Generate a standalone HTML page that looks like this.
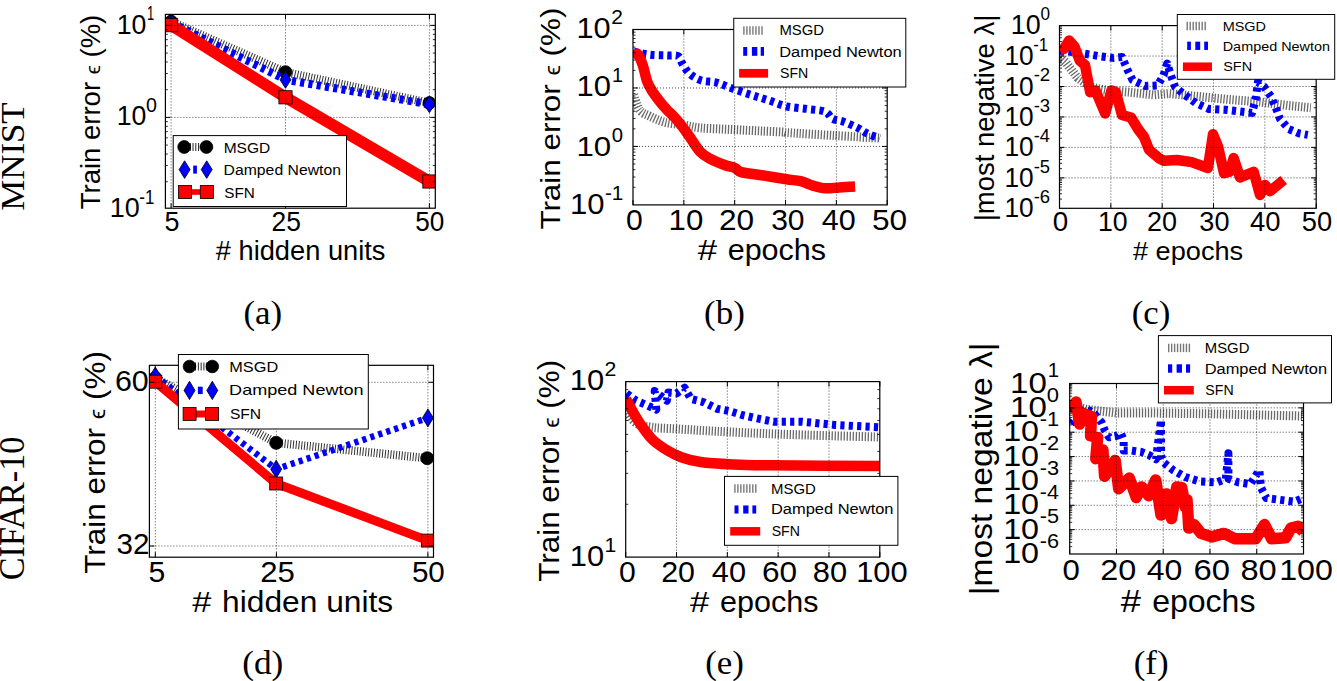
<!DOCTYPE html><html><head><meta charset="utf-8"><style>html,body{margin:0;padding:0;background:#fff;overflow:hidden}svg{display:block}</style></head><body><svg width="1337" height="681" viewBox="0 0 1337 681"><defs><clipPath id="ca"><rect x="165.4" y="14.4" width="269.9" height="193.79999999999998"/></clipPath><clipPath id="cb"><rect x="633.0" y="29.5" width="254.20000000000005" height="175.4"/></clipPath><clipPath id="cc"><rect x="1059.5" y="25.6" width="256.70000000000005" height="182.70000000000002"/></clipPath><clipPath id="cd"><rect x="149.4" y="365.3" width="284.1" height="191.90000000000003"/></clipPath><clipPath id="ce"><rect x="625.7" y="381.6" width="254.0999999999999" height="175.5"/></clipPath><clipPath id="cf"><rect x="1069.7" y="383.5" width="233.79999999999995" height="170.5"/></clipPath></defs><rect width="1337" height="681" fill="#fff"/><text transform="translate(23.77,210.70) rotate(-90) scale(1.0220,1)" font-family='"Liberation Serif", serif' font-size="34.08" fill="#000">MNIST</text>
<text transform="translate(24.06,580.20) rotate(-90) scale(0.9813,1)" font-family='"Liberation Serif", serif' font-size="34.82" fill="#000">CIFAR-10</text>
<text transform="translate(243.46,323.66) scale(1.0558,1)" font-family='"Liberation Serif", serif' font-size="33.09" fill="#000">(a)</text>
<text transform="translate(704.06,323.66) scale(1.0569,1)" font-family='"Liberation Serif", serif' font-size="33.09" fill="#000">(b)</text>
<text transform="translate(1131.77,323.66) scale(1.0529,1)" font-family='"Liberation Serif", serif' font-size="33.09" fill="#000">(c)</text>
<text transform="translate(242.15,673.86) scale(1.0681,1)" font-family='"Liberation Serif", serif' font-size="33.09" fill="#000">(d)</text>
<text transform="translate(705.16,673.86) scale(1.0558,1)" font-family='"Liberation Serif", serif' font-size="33.09" fill="#000">(e)</text>
<text transform="translate(1133.67,673.94) scale(1.0668,1)" font-family='"Liberation Serif", serif' font-size="32.72" fill="#000">(f)</text>
<g clip-path="url(#ca)">
<polyline points="171.1,21.5 285.5,72.1 429.4,103.0" fill="none" stroke="#303030" stroke-width="8.5" stroke-dasharray="1.0 1.8" stroke-linecap="butt" stroke-linejoin="round"/>
<circle cx="171.10" cy="21.50" r="6.40" fill="#000000" stroke="#000" stroke-width="0.8"/>
<circle cx="285.50" cy="72.10" r="6.40" fill="#000000" stroke="#000" stroke-width="0.8"/>
<circle cx="429.40" cy="103.00" r="6.40" fill="#000000" stroke="#000" stroke-width="0.8"/>
<polyline points="171.1,22.5 285.5,79.8 429.4,104.3" fill="none" stroke="#0000ff" stroke-width="8" stroke-dasharray="4.2 4.2" stroke-linecap="butt" stroke-linejoin="round"/>
<polygon points="171.10,14.00 176.60,22.50 171.10,31.00 165.60,22.50" fill="#0000ff" stroke="#000" stroke-width="0.8"/>
<polygon points="285.50,71.30 291.00,79.80 285.50,88.30 280.00,79.80" fill="#0000ff" stroke="#000" stroke-width="0.8"/>
<polygon points="429.40,95.80 434.90,104.30 429.40,112.80 423.90,104.30" fill="#0000ff" stroke="#000" stroke-width="0.8"/>
<polyline points="171.1,25.2 285.5,97.3 429.4,181.5" fill="none" stroke="#ff0000" stroke-width="11.5" stroke-linecap="butt" stroke-linejoin="miter"/>
<rect x="164.50" y="18.60" width="13.20" height="13.20" fill="#ff0000" stroke="#000" stroke-width="0.8"/>
<rect x="278.90" y="90.70" width="13.20" height="13.20" fill="#ff0000" stroke="#000" stroke-width="0.8"/>
<rect x="422.80" y="174.90" width="13.20" height="13.20" fill="#ff0000" stroke="#000" stroke-width="0.8"/>
</g>
<line x1="171.10" y1="14.40" x2="171.10" y2="208.20" stroke="#000" stroke-width="0.9" stroke-dasharray="1 2" stroke-linecap="butt" stroke-opacity="0.8"/>
<line x1="285.50" y1="14.40" x2="285.50" y2="208.20" stroke="#000" stroke-width="0.9" stroke-dasharray="1 2" stroke-linecap="butt" stroke-opacity="0.8"/>
<line x1="429.40" y1="14.40" x2="429.40" y2="208.20" stroke="#000" stroke-width="0.9" stroke-dasharray="1 2" stroke-linecap="butt" stroke-opacity="0.8"/>
<line x1="165.40" y1="25.40" x2="435.30" y2="25.40" stroke="#000" stroke-width="0.9" stroke-dasharray="1 2" stroke-linecap="butt" stroke-opacity="0.8"/>
<line x1="165.40" y1="117.40" x2="435.30" y2="117.40" stroke="#000" stroke-width="0.9" stroke-dasharray="1 2" stroke-linecap="butt" stroke-opacity="0.8"/>
<line x1="171.10" y1="208.20" x2="171.10" y2="203.20" stroke="#000" stroke-width="1" stroke-linecap="butt"/>
<line x1="171.10" y1="14.40" x2="171.10" y2="19.40" stroke="#000" stroke-width="1" stroke-linecap="butt"/>
<line x1="285.50" y1="208.20" x2="285.50" y2="203.20" stroke="#000" stroke-width="1" stroke-linecap="butt"/>
<line x1="285.50" y1="14.40" x2="285.50" y2="19.40" stroke="#000" stroke-width="1" stroke-linecap="butt"/>
<line x1="429.40" y1="208.20" x2="429.40" y2="203.20" stroke="#000" stroke-width="1" stroke-linecap="butt"/>
<line x1="429.40" y1="14.40" x2="429.40" y2="19.40" stroke="#000" stroke-width="1" stroke-linecap="butt"/>
<line x1="165.40" y1="25.40" x2="170.40" y2="25.40" stroke="#000" stroke-width="1" stroke-linecap="butt"/>
<line x1="435.30" y1="25.40" x2="430.30" y2="25.40" stroke="#000" stroke-width="1" stroke-linecap="butt"/>
<line x1="165.40" y1="117.40" x2="170.40" y2="117.40" stroke="#000" stroke-width="1" stroke-linecap="butt"/>
<line x1="435.30" y1="117.40" x2="430.30" y2="117.40" stroke="#000" stroke-width="1" stroke-linecap="butt"/>
<line x1="165.40" y1="89.71" x2="167.90" y2="89.71" stroke="#000" stroke-width="0.8" stroke-linecap="butt"/>
<line x1="435.30" y1="89.71" x2="432.80" y2="89.71" stroke="#000" stroke-width="0.8" stroke-linecap="butt"/>
<line x1="165.40" y1="73.50" x2="167.90" y2="73.50" stroke="#000" stroke-width="0.8" stroke-linecap="butt"/>
<line x1="435.30" y1="73.50" x2="432.80" y2="73.50" stroke="#000" stroke-width="0.8" stroke-linecap="butt"/>
<line x1="165.40" y1="62.01" x2="167.90" y2="62.01" stroke="#000" stroke-width="0.8" stroke-linecap="butt"/>
<line x1="435.30" y1="62.01" x2="432.80" y2="62.01" stroke="#000" stroke-width="0.8" stroke-linecap="butt"/>
<line x1="165.40" y1="53.09" x2="167.90" y2="53.09" stroke="#000" stroke-width="0.8" stroke-linecap="butt"/>
<line x1="435.30" y1="53.09" x2="432.80" y2="53.09" stroke="#000" stroke-width="0.8" stroke-linecap="butt"/>
<line x1="165.40" y1="45.81" x2="167.90" y2="45.81" stroke="#000" stroke-width="0.8" stroke-linecap="butt"/>
<line x1="435.30" y1="45.81" x2="432.80" y2="45.81" stroke="#000" stroke-width="0.8" stroke-linecap="butt"/>
<line x1="165.40" y1="39.65" x2="167.90" y2="39.65" stroke="#000" stroke-width="0.8" stroke-linecap="butt"/>
<line x1="435.30" y1="39.65" x2="432.80" y2="39.65" stroke="#000" stroke-width="0.8" stroke-linecap="butt"/>
<line x1="165.40" y1="34.32" x2="167.90" y2="34.32" stroke="#000" stroke-width="0.8" stroke-linecap="butt"/>
<line x1="435.30" y1="34.32" x2="432.80" y2="34.32" stroke="#000" stroke-width="0.8" stroke-linecap="butt"/>
<line x1="165.40" y1="29.61" x2="167.90" y2="29.61" stroke="#000" stroke-width="0.8" stroke-linecap="butt"/>
<line x1="435.30" y1="29.61" x2="432.80" y2="29.61" stroke="#000" stroke-width="0.8" stroke-linecap="butt"/>
<line x1="165.40" y1="181.71" x2="167.90" y2="181.71" stroke="#000" stroke-width="0.8" stroke-linecap="butt"/>
<line x1="435.30" y1="181.71" x2="432.80" y2="181.71" stroke="#000" stroke-width="0.8" stroke-linecap="butt"/>
<line x1="165.40" y1="165.50" x2="167.90" y2="165.50" stroke="#000" stroke-width="0.8" stroke-linecap="butt"/>
<line x1="435.30" y1="165.50" x2="432.80" y2="165.50" stroke="#000" stroke-width="0.8" stroke-linecap="butt"/>
<line x1="165.40" y1="154.01" x2="167.90" y2="154.01" stroke="#000" stroke-width="0.8" stroke-linecap="butt"/>
<line x1="435.30" y1="154.01" x2="432.80" y2="154.01" stroke="#000" stroke-width="0.8" stroke-linecap="butt"/>
<line x1="165.40" y1="145.09" x2="167.90" y2="145.09" stroke="#000" stroke-width="0.8" stroke-linecap="butt"/>
<line x1="435.30" y1="145.09" x2="432.80" y2="145.09" stroke="#000" stroke-width="0.8" stroke-linecap="butt"/>
<line x1="165.40" y1="137.81" x2="167.90" y2="137.81" stroke="#000" stroke-width="0.8" stroke-linecap="butt"/>
<line x1="435.30" y1="137.81" x2="432.80" y2="137.81" stroke="#000" stroke-width="0.8" stroke-linecap="butt"/>
<line x1="165.40" y1="131.65" x2="167.90" y2="131.65" stroke="#000" stroke-width="0.8" stroke-linecap="butt"/>
<line x1="435.30" y1="131.65" x2="432.80" y2="131.65" stroke="#000" stroke-width="0.8" stroke-linecap="butt"/>
<line x1="165.40" y1="126.32" x2="167.90" y2="126.32" stroke="#000" stroke-width="0.8" stroke-linecap="butt"/>
<line x1="435.30" y1="126.32" x2="432.80" y2="126.32" stroke="#000" stroke-width="0.8" stroke-linecap="butt"/>
<line x1="165.40" y1="121.61" x2="167.90" y2="121.61" stroke="#000" stroke-width="0.8" stroke-linecap="butt"/>
<line x1="435.30" y1="121.61" x2="432.80" y2="121.61" stroke="#000" stroke-width="0.8" stroke-linecap="butt"/>
<rect x="165.40" y="14.40" width="269.90" height="193.80" fill="none" stroke="#000" stroke-width="1.2"/>
<rect x="173.20" y="135.60" width="173.30" height="70.90" fill="#fff" stroke="#000" stroke-width="1"/>
<polyline points="184.2,147.0 206.4,147.0" fill="none" stroke="#000000" stroke-width="8" stroke-dasharray="0.85 1.95" stroke-linecap="butt" stroke-linejoin="round"/>
<circle cx="184.20" cy="147.00" r="6.40" fill="#000000" stroke="#000" stroke-width="0.8"/>
<circle cx="206.40" cy="147.00" r="6.40" fill="#000000" stroke="#000" stroke-width="0.8"/>
<rect x="193.20" y="165.60" width="3.70" height="8.00" fill="#0000ff"/>
<polygon points="184.60,160.80 190.10,169.60 184.60,178.40 179.10,169.60" fill="#0000ff" stroke="#000" stroke-width="0.8"/>
<polygon points="206.70,160.80 212.20,169.60 206.70,178.40 201.20,169.60" fill="#0000ff" stroke="#000" stroke-width="0.8"/>
<polyline points="185.0,192.0 206.9,192.0" fill="none" stroke="#ff0000" stroke-width="5.7" stroke-linecap="butt" stroke-linejoin="round"/>
<rect x="178.40" y="185.40" width="13.20" height="13.20" fill="#ff0000" stroke="#000" stroke-width="0.8"/>
<rect x="200.30" y="185.40" width="13.20" height="13.20" fill="#ff0000" stroke="#000" stroke-width="0.8"/>
<text transform="translate(223.63,152.60) scale(1.0182,1)" font-family='"Liberation Sans", sans-serif' font-size="15.26" fill="#000">MSGD</text>
<text transform="translate(223.61,175.10) scale(1.0329,1)" font-family='"Liberation Sans", sans-serif' font-size="15.26" fill="#000">Damped Newton</text>
<text transform="translate(224.21,197.50) scale(1.0005,1)" font-family='"Liberation Sans", sans-serif' font-size="15.26" fill="#000">SFN</text>
<text transform="translate(116.67,33.53) scale(0.9588,1)" font-family='"Liberation Sans", sans-serif' font-size="27.82" fill="#000">10</text>
<text transform="translate(146.91,20.00) scale(0.6475,1)" font-family='"Liberation Sans", sans-serif' font-size="20.06" fill="#000">1</text>
<text transform="translate(116.67,125.33) scale(0.9588,1)" font-family='"Liberation Sans", sans-serif' font-size="27.82" fill="#000">10</text>
<text transform="translate(145.93,111.81) scale(1.0089,1)" font-family='"Liberation Sans", sans-serif' font-size="19.49" fill="#000">0</text>
<text transform="translate(109.84,217.32) scale(0.9551,1)" font-family='"Liberation Sans", sans-serif' font-size="28.25" fill="#000">10</text>
<text transform="translate(139.25,203.90) scale(0.8518,1)" font-family='"Liberation Sans", sans-serif' font-size="19.91" fill="#000">-1</text>
<text transform="translate(164.52,231.43) scale(0.9660,1)" font-family='"Liberation Sans", sans-serif' font-size="27.95" fill="#000">5</text>
<text transform="translate(271.47,231.43) scale(0.9611,1)" font-family='"Liberation Sans", sans-serif' font-size="27.54" fill="#000">25</text>
<text transform="translate(415.35,231.43) scale(0.9488,1)" font-family='"Liberation Sans", sans-serif' font-size="27.54" fill="#000">50</text>
<text transform="translate(215.78,259.60) scale(1.0127,1)" font-family='"Liberation Sans", sans-serif' font-size="26.91" fill="#000"># hidden units</text>
<text transform="translate(100.18,209.32) rotate(-90) scale(1.0137,1)" font-family='"Liberation Sans", sans-serif' font-size="27.16" fill="#000"><tspan font-size="27.16">Train error </tspan><tspan font-size="20.37">ϵ</tspan><tspan font-size="27.16"> (%)</tspan></text>
<g clip-path="url(#cb)">
<path d="M 633.50,95.00 C 634.53,97.50 636.95,106.45 639.70,110.00 C 642.45,113.55 645.83,114.27 650.00,116.30 C 654.17,118.33 659.07,120.73 664.70,122.20 C 670.33,123.67 677.92,124.15 683.80,125.10 C 689.68,126.05 693.87,127.25 700.00,127.90 C 706.13,128.55 713.77,128.65 720.60,129.00 C 727.43,129.35 734.15,129.67 741.00,130.00 C 747.85,130.33 754.82,130.67 761.70,131.00 C 768.58,131.33 777.58,131.70 782.30,132.00 C 787.02,132.30 781.38,132.22 790.00,132.80 C 798.62,133.38 819.03,134.62 834.00,135.50 C 848.97,136.38 872.17,137.67 879.80,138.10" fill="none" stroke="#6a6a6a" stroke-width="9" stroke-dasharray="1.3 1.7" stroke-linecap="butt" stroke-linejoin="round"/>
<path d="M 633.90,51.70 C 636.58,52.20 644.38,54.08 650.00,54.70 C 655.62,55.32 662.93,55.17 667.60,55.40 C 672.27,55.63 675.55,54.75 678.00,56.10 C 680.45,57.45 680.35,60.55 682.30,63.50 C 684.25,66.45 686.52,70.97 689.70,73.80 C 692.88,76.63 696.93,79.03 701.40,80.50 C 705.87,81.97 711.25,81.22 716.50,82.60 C 721.75,83.98 727.08,86.73 732.90,88.80 C 738.72,90.87 745.57,93.12 751.40,95.00 C 757.23,96.88 762.07,98.22 767.90,100.10 C 773.73,101.98 779.78,104.82 786.40,106.30 C 793.02,107.78 801.13,108.10 807.60,109.00 C 814.07,109.90 821.08,110.08 825.20,111.70 C 829.32,113.32 829.37,117.08 832.30,118.70 C 835.23,120.32 838.70,119.93 842.80,121.40 C 846.90,122.87 852.78,125.45 856.90,127.50 C 861.02,129.55 863.68,131.93 867.50,133.70 C 871.32,135.47 877.75,137.37 879.80,138.10" fill="none" stroke="#0000ff" stroke-width="8" stroke-dasharray="4.2 4.2" stroke-linecap="butt" stroke-linejoin="round"/>
<path d="M 633.50,58.00 C 634.17,57.33 635.97,52.83 637.50,54.00 C 639.03,55.17 641.12,60.50 642.70,65.00 C 644.28,69.50 645.53,76.83 647.00,81.00 C 648.47,85.17 649.53,86.80 651.50,90.00 C 653.47,93.20 656.35,97.03 658.80,100.20 C 661.25,103.37 663.50,106.07 666.20,109.00 C 668.90,111.93 672.32,114.87 675.00,117.80 C 677.68,120.73 679.85,123.42 682.30,126.60 C 684.75,129.78 686.75,132.73 689.70,136.90 C 692.65,141.07 696.57,147.95 700.00,151.60 C 703.43,155.25 706.18,156.57 710.30,158.80 C 714.42,161.03 720.58,163.47 724.70,165.00 C 728.82,166.53 732.25,166.82 735.00,168.00 C 737.75,169.18 736.75,170.90 741.20,172.10 C 745.65,173.30 754.17,174.00 761.70,175.20 C 769.23,176.40 779.92,178.30 786.40,179.30 C 792.88,180.30 796.18,180.15 800.60,181.20 C 805.02,182.25 808.80,184.42 812.90,185.60 C 817.00,186.78 820.80,188.00 825.20,188.30 C 829.60,188.60 834.32,187.70 839.30,187.40 C 844.28,187.10 852.47,186.65 855.10,186.50" fill="none" stroke="#ff0000" stroke-width="10.5" stroke-linecap="butt" stroke-linejoin="round"/>
</g>
<line x1="683.84" y1="29.50" x2="683.84" y2="204.90" stroke="#000" stroke-width="0.9" stroke-dasharray="1 2" stroke-linecap="butt" stroke-opacity="0.8"/>
<line x1="734.68" y1="29.50" x2="734.68" y2="204.90" stroke="#000" stroke-width="0.9" stroke-dasharray="1 2" stroke-linecap="butt" stroke-opacity="0.8"/>
<line x1="785.52" y1="29.50" x2="785.52" y2="204.90" stroke="#000" stroke-width="0.9" stroke-dasharray="1 2" stroke-linecap="butt" stroke-opacity="0.8"/>
<line x1="836.36" y1="29.50" x2="836.36" y2="204.90" stroke="#000" stroke-width="0.9" stroke-dasharray="1 2" stroke-linecap="butt" stroke-opacity="0.8"/>
<line x1="633.00" y1="87.97" x2="887.20" y2="87.97" stroke="#000" stroke-width="0.9" stroke-dasharray="1 2" stroke-linecap="butt" stroke-opacity="0.8"/>
<line x1="633.00" y1="146.43" x2="887.20" y2="146.43" stroke="#000" stroke-width="0.9" stroke-dasharray="1 2" stroke-linecap="butt" stroke-opacity="0.8"/>
<line x1="633.00" y1="204.90" x2="633.00" y2="199.90" stroke="#000" stroke-width="1" stroke-linecap="butt"/>
<line x1="633.00" y1="29.50" x2="633.00" y2="34.50" stroke="#000" stroke-width="1" stroke-linecap="butt"/>
<line x1="683.84" y1="204.90" x2="683.84" y2="199.90" stroke="#000" stroke-width="1" stroke-linecap="butt"/>
<line x1="683.84" y1="29.50" x2="683.84" y2="34.50" stroke="#000" stroke-width="1" stroke-linecap="butt"/>
<line x1="734.68" y1="204.90" x2="734.68" y2="199.90" stroke="#000" stroke-width="1" stroke-linecap="butt"/>
<line x1="734.68" y1="29.50" x2="734.68" y2="34.50" stroke="#000" stroke-width="1" stroke-linecap="butt"/>
<line x1="785.52" y1="204.90" x2="785.52" y2="199.90" stroke="#000" stroke-width="1" stroke-linecap="butt"/>
<line x1="785.52" y1="29.50" x2="785.52" y2="34.50" stroke="#000" stroke-width="1" stroke-linecap="butt"/>
<line x1="836.36" y1="204.90" x2="836.36" y2="199.90" stroke="#000" stroke-width="1" stroke-linecap="butt"/>
<line x1="836.36" y1="29.50" x2="836.36" y2="34.50" stroke="#000" stroke-width="1" stroke-linecap="butt"/>
<line x1="887.20" y1="204.90" x2="887.20" y2="199.90" stroke="#000" stroke-width="1" stroke-linecap="butt"/>
<line x1="887.20" y1="29.50" x2="887.20" y2="34.50" stroke="#000" stroke-width="1" stroke-linecap="butt"/>
<line x1="633.00" y1="87.97" x2="638.00" y2="87.97" stroke="#000" stroke-width="1" stroke-linecap="butt"/>
<line x1="887.20" y1="87.97" x2="882.20" y2="87.97" stroke="#000" stroke-width="1" stroke-linecap="butt"/>
<line x1="633.00" y1="146.43" x2="638.00" y2="146.43" stroke="#000" stroke-width="1" stroke-linecap="butt"/>
<line x1="887.20" y1="146.43" x2="882.20" y2="146.43" stroke="#000" stroke-width="1" stroke-linecap="butt"/>
<line x1="633.00" y1="70.37" x2="635.50" y2="70.37" stroke="#000" stroke-width="0.8" stroke-linecap="butt"/>
<line x1="887.20" y1="70.37" x2="884.70" y2="70.37" stroke="#000" stroke-width="0.8" stroke-linecap="butt"/>
<line x1="633.00" y1="60.07" x2="635.50" y2="60.07" stroke="#000" stroke-width="0.8" stroke-linecap="butt"/>
<line x1="887.20" y1="60.07" x2="884.70" y2="60.07" stroke="#000" stroke-width="0.8" stroke-linecap="butt"/>
<line x1="633.00" y1="52.77" x2="635.50" y2="52.77" stroke="#000" stroke-width="0.8" stroke-linecap="butt"/>
<line x1="887.20" y1="52.77" x2="884.70" y2="52.77" stroke="#000" stroke-width="0.8" stroke-linecap="butt"/>
<line x1="633.00" y1="47.10" x2="635.50" y2="47.10" stroke="#000" stroke-width="0.8" stroke-linecap="butt"/>
<line x1="887.20" y1="47.10" x2="884.70" y2="47.10" stroke="#000" stroke-width="0.8" stroke-linecap="butt"/>
<line x1="633.00" y1="42.47" x2="635.50" y2="42.47" stroke="#000" stroke-width="0.8" stroke-linecap="butt"/>
<line x1="887.20" y1="42.47" x2="884.70" y2="42.47" stroke="#000" stroke-width="0.8" stroke-linecap="butt"/>
<line x1="633.00" y1="38.56" x2="635.50" y2="38.56" stroke="#000" stroke-width="0.8" stroke-linecap="butt"/>
<line x1="887.20" y1="38.56" x2="884.70" y2="38.56" stroke="#000" stroke-width="0.8" stroke-linecap="butt"/>
<line x1="633.00" y1="35.17" x2="635.50" y2="35.17" stroke="#000" stroke-width="0.8" stroke-linecap="butt"/>
<line x1="887.20" y1="35.17" x2="884.70" y2="35.17" stroke="#000" stroke-width="0.8" stroke-linecap="butt"/>
<line x1="633.00" y1="32.18" x2="635.50" y2="32.18" stroke="#000" stroke-width="0.8" stroke-linecap="butt"/>
<line x1="887.20" y1="32.18" x2="884.70" y2="32.18" stroke="#000" stroke-width="0.8" stroke-linecap="butt"/>
<line x1="633.00" y1="128.83" x2="635.50" y2="128.83" stroke="#000" stroke-width="0.8" stroke-linecap="butt"/>
<line x1="887.20" y1="128.83" x2="884.70" y2="128.83" stroke="#000" stroke-width="0.8" stroke-linecap="butt"/>
<line x1="633.00" y1="118.54" x2="635.50" y2="118.54" stroke="#000" stroke-width="0.8" stroke-linecap="butt"/>
<line x1="887.20" y1="118.54" x2="884.70" y2="118.54" stroke="#000" stroke-width="0.8" stroke-linecap="butt"/>
<line x1="633.00" y1="111.23" x2="635.50" y2="111.23" stroke="#000" stroke-width="0.8" stroke-linecap="butt"/>
<line x1="887.20" y1="111.23" x2="884.70" y2="111.23" stroke="#000" stroke-width="0.8" stroke-linecap="butt"/>
<line x1="633.00" y1="105.57" x2="635.50" y2="105.57" stroke="#000" stroke-width="0.8" stroke-linecap="butt"/>
<line x1="887.20" y1="105.57" x2="884.70" y2="105.57" stroke="#000" stroke-width="0.8" stroke-linecap="butt"/>
<line x1="633.00" y1="100.94" x2="635.50" y2="100.94" stroke="#000" stroke-width="0.8" stroke-linecap="butt"/>
<line x1="887.20" y1="100.94" x2="884.70" y2="100.94" stroke="#000" stroke-width="0.8" stroke-linecap="butt"/>
<line x1="633.00" y1="97.02" x2="635.50" y2="97.02" stroke="#000" stroke-width="0.8" stroke-linecap="butt"/>
<line x1="887.20" y1="97.02" x2="884.70" y2="97.02" stroke="#000" stroke-width="0.8" stroke-linecap="butt"/>
<line x1="633.00" y1="93.63" x2="635.50" y2="93.63" stroke="#000" stroke-width="0.8" stroke-linecap="butt"/>
<line x1="887.20" y1="93.63" x2="884.70" y2="93.63" stroke="#000" stroke-width="0.8" stroke-linecap="butt"/>
<line x1="633.00" y1="90.64" x2="635.50" y2="90.64" stroke="#000" stroke-width="0.8" stroke-linecap="butt"/>
<line x1="887.20" y1="90.64" x2="884.70" y2="90.64" stroke="#000" stroke-width="0.8" stroke-linecap="butt"/>
<line x1="633.00" y1="187.30" x2="635.50" y2="187.30" stroke="#000" stroke-width="0.8" stroke-linecap="butt"/>
<line x1="887.20" y1="187.30" x2="884.70" y2="187.30" stroke="#000" stroke-width="0.8" stroke-linecap="butt"/>
<line x1="633.00" y1="177.00" x2="635.50" y2="177.00" stroke="#000" stroke-width="0.8" stroke-linecap="butt"/>
<line x1="887.20" y1="177.00" x2="884.70" y2="177.00" stroke="#000" stroke-width="0.8" stroke-linecap="butt"/>
<line x1="633.00" y1="169.70" x2="635.50" y2="169.70" stroke="#000" stroke-width="0.8" stroke-linecap="butt"/>
<line x1="887.20" y1="169.70" x2="884.70" y2="169.70" stroke="#000" stroke-width="0.8" stroke-linecap="butt"/>
<line x1="633.00" y1="164.03" x2="635.50" y2="164.03" stroke="#000" stroke-width="0.8" stroke-linecap="butt"/>
<line x1="887.20" y1="164.03" x2="884.70" y2="164.03" stroke="#000" stroke-width="0.8" stroke-linecap="butt"/>
<line x1="633.00" y1="159.40" x2="635.50" y2="159.40" stroke="#000" stroke-width="0.8" stroke-linecap="butt"/>
<line x1="887.20" y1="159.40" x2="884.70" y2="159.40" stroke="#000" stroke-width="0.8" stroke-linecap="butt"/>
<line x1="633.00" y1="155.49" x2="635.50" y2="155.49" stroke="#000" stroke-width="0.8" stroke-linecap="butt"/>
<line x1="887.20" y1="155.49" x2="884.70" y2="155.49" stroke="#000" stroke-width="0.8" stroke-linecap="butt"/>
<line x1="633.00" y1="152.10" x2="635.50" y2="152.10" stroke="#000" stroke-width="0.8" stroke-linecap="butt"/>
<line x1="887.20" y1="152.10" x2="884.70" y2="152.10" stroke="#000" stroke-width="0.8" stroke-linecap="butt"/>
<line x1="633.00" y1="149.11" x2="635.50" y2="149.11" stroke="#000" stroke-width="0.8" stroke-linecap="butt"/>
<line x1="887.20" y1="149.11" x2="884.70" y2="149.11" stroke="#000" stroke-width="0.8" stroke-linecap="butt"/>
<rect x="633.00" y="29.50" width="254.20" height="175.40" fill="none" stroke="#000" stroke-width="1.2"/>
<rect x="733.75" y="18.30" width="172.05" height="68.70" fill="#fff" stroke="#000" stroke-width="1.0"/>
<line x1="743.90" y1="26.15" x2="743.90" y2="34.85" stroke="#777777" stroke-width="1.4" stroke-linecap="butt"/>
<line x1="746.92" y1="26.15" x2="746.92" y2="34.85" stroke="#777777" stroke-width="1.4" stroke-linecap="butt"/>
<line x1="749.93" y1="26.15" x2="749.93" y2="34.85" stroke="#777777" stroke-width="1.4" stroke-linecap="butt"/>
<line x1="752.95" y1="26.15" x2="752.95" y2="34.85" stroke="#777777" stroke-width="1.4" stroke-linecap="butt"/>
<line x1="755.97" y1="26.15" x2="755.97" y2="34.85" stroke="#777777" stroke-width="1.4" stroke-linecap="butt"/>
<line x1="758.98" y1="26.15" x2="758.98" y2="34.85" stroke="#777777" stroke-width="1.4" stroke-linecap="butt"/>
<line x1="762.00" y1="26.15" x2="762.00" y2="34.85" stroke="#777777" stroke-width="1.4" stroke-linecap="butt"/>
<rect x="743.20" y="47.00" width="4.00" height="8.80" fill="#0000ff"/>
<rect x="751.90" y="47.00" width="5.40" height="8.80" fill="#0000ff"/>
<rect x="760.70" y="47.00" width="3.30" height="8.80" fill="#0000ff"/>
<rect x="739.10" y="68.95" width="29.00" height="8.70" fill="#ff0000"/>
<text transform="translate(779.38,35.30) scale(0.9748,1)" font-family='"Liberation Sans", sans-serif' font-size="15.26" fill="#000">MSGD</text>
<text transform="translate(779.25,56.70) scale(1.0778,1)" font-family='"Liberation Sans", sans-serif' font-size="15.26" fill="#000">Damped Newton</text>
<text transform="translate(779.96,77.70) scale(0.9637,1)" font-family='"Liberation Sans", sans-serif' font-size="14.68" fill="#000">SFN</text>
<text transform="translate(576.46,37.62) scale(1.0704,1)" font-family='"Liberation Sans", sans-serif' font-size="28.67" fill="#000">10</text>
<text transform="translate(611.34,23.70) scale(1.0289,1)" font-family='"Liberation Sans", sans-serif' font-size="20.48" fill="#000">2</text>
<text transform="translate(576.44,96.42) scale(1.0651,1)" font-family='"Liberation Sans", sans-serif' font-size="29.10" fill="#000">10</text>
<text transform="translate(612.00,82.00) scale(0.9829,1)" font-family='"Liberation Sans", sans-serif' font-size="20.06" fill="#000">1</text>
<text transform="translate(576.42,155.52) scale(1.0933,1)" font-family='"Liberation Sans", sans-serif' font-size="28.53" fill="#000">10</text>
<text transform="translate(611.81,141.50) scale(0.9977,1)" font-family='"Liberation Sans", sans-serif' font-size="20.34" fill="#000">0</text>
<text transform="translate(569.93,214.42) scale(1.0686,1)" font-family='"Liberation Sans", sans-serif' font-size="29.10" fill="#000">10</text>
<text transform="translate(604.88,199.80) scale(1.0411,1)" font-family='"Liberation Sans", sans-serif' font-size="19.91" fill="#000">-1</text>
<text transform="translate(626.02,229.71) scale(1.0156,1)" font-family='"Liberation Sans", sans-serif' font-size="29.66" fill="#000">0</text>
<text transform="translate(668.62,229.71) scale(1.0516,1)" font-family='"Liberation Sans", sans-serif' font-size="29.66" fill="#000">10</text>
<text transform="translate(719.01,229.71) scale(1.0646,1)" font-family='"Liberation Sans", sans-serif' font-size="29.66" fill="#000">20</text>
<text transform="translate(771.16,229.71) scale(1.0129,1)" font-family='"Liberation Sans", sans-serif' font-size="29.66" fill="#000">30</text>
<text transform="translate(821.80,229.71) scale(1.0304,1)" font-family='"Liberation Sans", sans-serif' font-size="29.66" fill="#000">40</text>
<text transform="translate(872.03,229.71) scale(1.0670,1)" font-family='"Liberation Sans", sans-serif' font-size="29.66" fill="#000">50</text>
<text transform="translate(697.75,259.90) scale(1.2005,1)" font-family='"Liberation Sans", sans-serif' font-size="29.09" fill="#000">#</text>
<text transform="translate(727.71,259.90) scale(1.0518,1)" font-family='"Liberation Sans", sans-serif' font-size="28.98" fill="#000">epochs</text>
<text transform="translate(559.60,229.61) rotate(-90) scale(1.1027,1)" font-family='"Liberation Sans", sans-serif' font-size="28.49" fill="#000"><tspan font-size="28.49">Train error </tspan><tspan font-size="21.37">ϵ</tspan><tspan font-size="28.49"> (%)</tspan></text>
<g clip-path="url(#cc)">
<polyline points="1060.0,57.0 1065.6,62.3 1077.9,78.1 1090.2,87.0 1107.9,90.5 1129.0,92.2 1153.7,94.9 1169.4,93.6 1198.7,96.5 1230.0,99.6 1259.4,101.9 1288.7,105.5 1310.8,107.7" fill="none" stroke="#6a6a6a" stroke-width="9" stroke-dasharray="1.3 1.7" stroke-linecap="butt" stroke-linejoin="round"/>
<polyline points="1060.0,50.8 1077.9,52.6 1099.0,56.1 1113.1,57.9 1122.0,57.0 1127.2,69.3 1132.5,79.9 1144.9,86.0 1157.6,85.5 1163.5,75.2 1167.2,63.5 1170.8,75.2 1175.2,87.0 1184.0,94.3 1195.8,103.1 1209.0,109.0 1225.2,109.8 1238.8,111.4 1252.0,112.9 1255.7,99.6 1257.9,82.0 1263.8,86.4 1271.1,96.7 1275.5,107.0 1279.9,118.7 1288.7,129.0 1299.0,133.4 1307.8,134.9" fill="none" stroke="#0000ff" stroke-width="8" stroke-dasharray="4.2 4.2" stroke-linecap="butt" stroke-linejoin="round"/>
<polyline points="1060.0,50.0 1063.8,49.0 1069.1,40.5 1074.4,46.4 1079.7,60.5 1085.0,65.0 1090.2,92.2 1095.5,90.5 1105.2,113.4 1111.4,90.5 1115.8,92.2 1122.0,115.0 1131.0,117.5 1138.0,129.0 1144.0,137.0 1149.0,149.7 1159.4,158.5 1163.8,160.7 1177.0,160.0 1191.7,162.1 1207.9,168.0 1213.0,134.2 1218.1,146.7 1224.0,173.2 1229.9,171.7 1233.6,158.0 1240.0,177.4 1253.7,171.8 1260.0,194.9 1265.0,184.9 1270.0,191.2 1283.7,180.0" fill="none" stroke="#ff0000" stroke-width="10.5" stroke-linecap="butt" stroke-linejoin="round"/>
</g>
<line x1="1110.84" y1="25.60" x2="1110.84" y2="208.30" stroke="#000" stroke-width="0.9" stroke-dasharray="1 2" stroke-linecap="butt" stroke-opacity="0.8"/>
<line x1="1162.18" y1="25.60" x2="1162.18" y2="208.30" stroke="#000" stroke-width="0.9" stroke-dasharray="1 2" stroke-linecap="butt" stroke-opacity="0.8"/>
<line x1="1213.52" y1="25.60" x2="1213.52" y2="208.30" stroke="#000" stroke-width="0.9" stroke-dasharray="1 2" stroke-linecap="butt" stroke-opacity="0.8"/>
<line x1="1264.86" y1="25.60" x2="1264.86" y2="208.30" stroke="#000" stroke-width="0.9" stroke-dasharray="1 2" stroke-linecap="butt" stroke-opacity="0.8"/>
<line x1="1059.50" y1="56.05" x2="1316.20" y2="56.05" stroke="#000" stroke-width="0.9" stroke-dasharray="1 2" stroke-linecap="butt" stroke-opacity="0.8"/>
<line x1="1059.50" y1="86.50" x2="1316.20" y2="86.50" stroke="#000" stroke-width="0.9" stroke-dasharray="1 2" stroke-linecap="butt" stroke-opacity="0.8"/>
<line x1="1059.50" y1="116.95" x2="1316.20" y2="116.95" stroke="#000" stroke-width="0.9" stroke-dasharray="1 2" stroke-linecap="butt" stroke-opacity="0.8"/>
<line x1="1059.50" y1="147.40" x2="1316.20" y2="147.40" stroke="#000" stroke-width="0.9" stroke-dasharray="1 2" stroke-linecap="butt" stroke-opacity="0.8"/>
<line x1="1059.50" y1="177.85" x2="1316.20" y2="177.85" stroke="#000" stroke-width="0.9" stroke-dasharray="1 2" stroke-linecap="butt" stroke-opacity="0.8"/>
<line x1="1059.50" y1="208.30" x2="1059.50" y2="203.30" stroke="#000" stroke-width="1" stroke-linecap="butt"/>
<line x1="1059.50" y1="25.60" x2="1059.50" y2="30.60" stroke="#000" stroke-width="1" stroke-linecap="butt"/>
<line x1="1110.84" y1="208.30" x2="1110.84" y2="203.30" stroke="#000" stroke-width="1" stroke-linecap="butt"/>
<line x1="1110.84" y1="25.60" x2="1110.84" y2="30.60" stroke="#000" stroke-width="1" stroke-linecap="butt"/>
<line x1="1162.18" y1="208.30" x2="1162.18" y2="203.30" stroke="#000" stroke-width="1" stroke-linecap="butt"/>
<line x1="1162.18" y1="25.60" x2="1162.18" y2="30.60" stroke="#000" stroke-width="1" stroke-linecap="butt"/>
<line x1="1213.52" y1="208.30" x2="1213.52" y2="203.30" stroke="#000" stroke-width="1" stroke-linecap="butt"/>
<line x1="1213.52" y1="25.60" x2="1213.52" y2="30.60" stroke="#000" stroke-width="1" stroke-linecap="butt"/>
<line x1="1264.86" y1="208.30" x2="1264.86" y2="203.30" stroke="#000" stroke-width="1" stroke-linecap="butt"/>
<line x1="1264.86" y1="25.60" x2="1264.86" y2="30.60" stroke="#000" stroke-width="1" stroke-linecap="butt"/>
<line x1="1316.20" y1="208.30" x2="1316.20" y2="203.30" stroke="#000" stroke-width="1" stroke-linecap="butt"/>
<line x1="1316.20" y1="25.60" x2="1316.20" y2="30.60" stroke="#000" stroke-width="1" stroke-linecap="butt"/>
<line x1="1059.50" y1="56.05" x2="1064.50" y2="56.05" stroke="#000" stroke-width="1" stroke-linecap="butt"/>
<line x1="1316.20" y1="56.05" x2="1311.20" y2="56.05" stroke="#000" stroke-width="1" stroke-linecap="butt"/>
<line x1="1059.50" y1="86.50" x2="1064.50" y2="86.50" stroke="#000" stroke-width="1" stroke-linecap="butt"/>
<line x1="1316.20" y1="86.50" x2="1311.20" y2="86.50" stroke="#000" stroke-width="1" stroke-linecap="butt"/>
<line x1="1059.50" y1="116.95" x2="1064.50" y2="116.95" stroke="#000" stroke-width="1" stroke-linecap="butt"/>
<line x1="1316.20" y1="116.95" x2="1311.20" y2="116.95" stroke="#000" stroke-width="1" stroke-linecap="butt"/>
<line x1="1059.50" y1="147.40" x2="1064.50" y2="147.40" stroke="#000" stroke-width="1" stroke-linecap="butt"/>
<line x1="1316.20" y1="147.40" x2="1311.20" y2="147.40" stroke="#000" stroke-width="1" stroke-linecap="butt"/>
<line x1="1059.50" y1="177.85" x2="1064.50" y2="177.85" stroke="#000" stroke-width="1" stroke-linecap="butt"/>
<line x1="1316.20" y1="177.85" x2="1311.20" y2="177.85" stroke="#000" stroke-width="1" stroke-linecap="butt"/>
<line x1="1059.50" y1="46.88" x2="1062.00" y2="46.88" stroke="#000" stroke-width="0.8" stroke-linecap="butt"/>
<line x1="1316.20" y1="46.88" x2="1313.70" y2="46.88" stroke="#000" stroke-width="0.8" stroke-linecap="butt"/>
<line x1="1059.50" y1="41.52" x2="1062.00" y2="41.52" stroke="#000" stroke-width="0.8" stroke-linecap="butt"/>
<line x1="1316.20" y1="41.52" x2="1313.70" y2="41.52" stroke="#000" stroke-width="0.8" stroke-linecap="butt"/>
<line x1="1059.50" y1="37.72" x2="1062.00" y2="37.72" stroke="#000" stroke-width="0.8" stroke-linecap="butt"/>
<line x1="1316.20" y1="37.72" x2="1313.70" y2="37.72" stroke="#000" stroke-width="0.8" stroke-linecap="butt"/>
<line x1="1059.50" y1="34.77" x2="1062.00" y2="34.77" stroke="#000" stroke-width="0.8" stroke-linecap="butt"/>
<line x1="1316.20" y1="34.77" x2="1313.70" y2="34.77" stroke="#000" stroke-width="0.8" stroke-linecap="butt"/>
<line x1="1059.50" y1="32.36" x2="1062.00" y2="32.36" stroke="#000" stroke-width="0.8" stroke-linecap="butt"/>
<line x1="1316.20" y1="32.36" x2="1313.70" y2="32.36" stroke="#000" stroke-width="0.8" stroke-linecap="butt"/>
<line x1="1059.50" y1="30.32" x2="1062.00" y2="30.32" stroke="#000" stroke-width="0.8" stroke-linecap="butt"/>
<line x1="1316.20" y1="30.32" x2="1313.70" y2="30.32" stroke="#000" stroke-width="0.8" stroke-linecap="butt"/>
<line x1="1059.50" y1="28.55" x2="1062.00" y2="28.55" stroke="#000" stroke-width="0.8" stroke-linecap="butt"/>
<line x1="1316.20" y1="28.55" x2="1313.70" y2="28.55" stroke="#000" stroke-width="0.8" stroke-linecap="butt"/>
<line x1="1059.50" y1="26.99" x2="1062.00" y2="26.99" stroke="#000" stroke-width="0.8" stroke-linecap="butt"/>
<line x1="1316.20" y1="26.99" x2="1313.70" y2="26.99" stroke="#000" stroke-width="0.8" stroke-linecap="butt"/>
<line x1="1059.50" y1="77.33" x2="1062.00" y2="77.33" stroke="#000" stroke-width="0.8" stroke-linecap="butt"/>
<line x1="1316.20" y1="77.33" x2="1313.70" y2="77.33" stroke="#000" stroke-width="0.8" stroke-linecap="butt"/>
<line x1="1059.50" y1="71.97" x2="1062.00" y2="71.97" stroke="#000" stroke-width="0.8" stroke-linecap="butt"/>
<line x1="1316.20" y1="71.97" x2="1313.70" y2="71.97" stroke="#000" stroke-width="0.8" stroke-linecap="butt"/>
<line x1="1059.50" y1="68.17" x2="1062.00" y2="68.17" stroke="#000" stroke-width="0.8" stroke-linecap="butt"/>
<line x1="1316.20" y1="68.17" x2="1313.70" y2="68.17" stroke="#000" stroke-width="0.8" stroke-linecap="butt"/>
<line x1="1059.50" y1="65.22" x2="1062.00" y2="65.22" stroke="#000" stroke-width="0.8" stroke-linecap="butt"/>
<line x1="1316.20" y1="65.22" x2="1313.70" y2="65.22" stroke="#000" stroke-width="0.8" stroke-linecap="butt"/>
<line x1="1059.50" y1="62.81" x2="1062.00" y2="62.81" stroke="#000" stroke-width="0.8" stroke-linecap="butt"/>
<line x1="1316.20" y1="62.81" x2="1313.70" y2="62.81" stroke="#000" stroke-width="0.8" stroke-linecap="butt"/>
<line x1="1059.50" y1="60.77" x2="1062.00" y2="60.77" stroke="#000" stroke-width="0.8" stroke-linecap="butt"/>
<line x1="1316.20" y1="60.77" x2="1313.70" y2="60.77" stroke="#000" stroke-width="0.8" stroke-linecap="butt"/>
<line x1="1059.50" y1="59.00" x2="1062.00" y2="59.00" stroke="#000" stroke-width="0.8" stroke-linecap="butt"/>
<line x1="1316.20" y1="59.00" x2="1313.70" y2="59.00" stroke="#000" stroke-width="0.8" stroke-linecap="butt"/>
<line x1="1059.50" y1="57.44" x2="1062.00" y2="57.44" stroke="#000" stroke-width="0.8" stroke-linecap="butt"/>
<line x1="1316.20" y1="57.44" x2="1313.70" y2="57.44" stroke="#000" stroke-width="0.8" stroke-linecap="butt"/>
<line x1="1059.50" y1="107.78" x2="1062.00" y2="107.78" stroke="#000" stroke-width="0.8" stroke-linecap="butt"/>
<line x1="1316.20" y1="107.78" x2="1313.70" y2="107.78" stroke="#000" stroke-width="0.8" stroke-linecap="butt"/>
<line x1="1059.50" y1="102.42" x2="1062.00" y2="102.42" stroke="#000" stroke-width="0.8" stroke-linecap="butt"/>
<line x1="1316.20" y1="102.42" x2="1313.70" y2="102.42" stroke="#000" stroke-width="0.8" stroke-linecap="butt"/>
<line x1="1059.50" y1="98.62" x2="1062.00" y2="98.62" stroke="#000" stroke-width="0.8" stroke-linecap="butt"/>
<line x1="1316.20" y1="98.62" x2="1313.70" y2="98.62" stroke="#000" stroke-width="0.8" stroke-linecap="butt"/>
<line x1="1059.50" y1="95.67" x2="1062.00" y2="95.67" stroke="#000" stroke-width="0.8" stroke-linecap="butt"/>
<line x1="1316.20" y1="95.67" x2="1313.70" y2="95.67" stroke="#000" stroke-width="0.8" stroke-linecap="butt"/>
<line x1="1059.50" y1="93.26" x2="1062.00" y2="93.26" stroke="#000" stroke-width="0.8" stroke-linecap="butt"/>
<line x1="1316.20" y1="93.26" x2="1313.70" y2="93.26" stroke="#000" stroke-width="0.8" stroke-linecap="butt"/>
<line x1="1059.50" y1="91.22" x2="1062.00" y2="91.22" stroke="#000" stroke-width="0.8" stroke-linecap="butt"/>
<line x1="1316.20" y1="91.22" x2="1313.70" y2="91.22" stroke="#000" stroke-width="0.8" stroke-linecap="butt"/>
<line x1="1059.50" y1="89.45" x2="1062.00" y2="89.45" stroke="#000" stroke-width="0.8" stroke-linecap="butt"/>
<line x1="1316.20" y1="89.45" x2="1313.70" y2="89.45" stroke="#000" stroke-width="0.8" stroke-linecap="butt"/>
<line x1="1059.50" y1="87.89" x2="1062.00" y2="87.89" stroke="#000" stroke-width="0.8" stroke-linecap="butt"/>
<line x1="1316.20" y1="87.89" x2="1313.70" y2="87.89" stroke="#000" stroke-width="0.8" stroke-linecap="butt"/>
<line x1="1059.50" y1="138.23" x2="1062.00" y2="138.23" stroke="#000" stroke-width="0.8" stroke-linecap="butt"/>
<line x1="1316.20" y1="138.23" x2="1313.70" y2="138.23" stroke="#000" stroke-width="0.8" stroke-linecap="butt"/>
<line x1="1059.50" y1="132.87" x2="1062.00" y2="132.87" stroke="#000" stroke-width="0.8" stroke-linecap="butt"/>
<line x1="1316.20" y1="132.87" x2="1313.70" y2="132.87" stroke="#000" stroke-width="0.8" stroke-linecap="butt"/>
<line x1="1059.50" y1="129.07" x2="1062.00" y2="129.07" stroke="#000" stroke-width="0.8" stroke-linecap="butt"/>
<line x1="1316.20" y1="129.07" x2="1313.70" y2="129.07" stroke="#000" stroke-width="0.8" stroke-linecap="butt"/>
<line x1="1059.50" y1="126.12" x2="1062.00" y2="126.12" stroke="#000" stroke-width="0.8" stroke-linecap="butt"/>
<line x1="1316.20" y1="126.12" x2="1313.70" y2="126.12" stroke="#000" stroke-width="0.8" stroke-linecap="butt"/>
<line x1="1059.50" y1="123.71" x2="1062.00" y2="123.71" stroke="#000" stroke-width="0.8" stroke-linecap="butt"/>
<line x1="1316.20" y1="123.71" x2="1313.70" y2="123.71" stroke="#000" stroke-width="0.8" stroke-linecap="butt"/>
<line x1="1059.50" y1="121.67" x2="1062.00" y2="121.67" stroke="#000" stroke-width="0.8" stroke-linecap="butt"/>
<line x1="1316.20" y1="121.67" x2="1313.70" y2="121.67" stroke="#000" stroke-width="0.8" stroke-linecap="butt"/>
<line x1="1059.50" y1="119.90" x2="1062.00" y2="119.90" stroke="#000" stroke-width="0.8" stroke-linecap="butt"/>
<line x1="1316.20" y1="119.90" x2="1313.70" y2="119.90" stroke="#000" stroke-width="0.8" stroke-linecap="butt"/>
<line x1="1059.50" y1="118.34" x2="1062.00" y2="118.34" stroke="#000" stroke-width="0.8" stroke-linecap="butt"/>
<line x1="1316.20" y1="118.34" x2="1313.70" y2="118.34" stroke="#000" stroke-width="0.8" stroke-linecap="butt"/>
<line x1="1059.50" y1="168.68" x2="1062.00" y2="168.68" stroke="#000" stroke-width="0.8" stroke-linecap="butt"/>
<line x1="1316.20" y1="168.68" x2="1313.70" y2="168.68" stroke="#000" stroke-width="0.8" stroke-linecap="butt"/>
<line x1="1059.50" y1="163.32" x2="1062.00" y2="163.32" stroke="#000" stroke-width="0.8" stroke-linecap="butt"/>
<line x1="1316.20" y1="163.32" x2="1313.70" y2="163.32" stroke="#000" stroke-width="0.8" stroke-linecap="butt"/>
<line x1="1059.50" y1="159.52" x2="1062.00" y2="159.52" stroke="#000" stroke-width="0.8" stroke-linecap="butt"/>
<line x1="1316.20" y1="159.52" x2="1313.70" y2="159.52" stroke="#000" stroke-width="0.8" stroke-linecap="butt"/>
<line x1="1059.50" y1="156.57" x2="1062.00" y2="156.57" stroke="#000" stroke-width="0.8" stroke-linecap="butt"/>
<line x1="1316.20" y1="156.57" x2="1313.70" y2="156.57" stroke="#000" stroke-width="0.8" stroke-linecap="butt"/>
<line x1="1059.50" y1="154.16" x2="1062.00" y2="154.16" stroke="#000" stroke-width="0.8" stroke-linecap="butt"/>
<line x1="1316.20" y1="154.16" x2="1313.70" y2="154.16" stroke="#000" stroke-width="0.8" stroke-linecap="butt"/>
<line x1="1059.50" y1="152.12" x2="1062.00" y2="152.12" stroke="#000" stroke-width="0.8" stroke-linecap="butt"/>
<line x1="1316.20" y1="152.12" x2="1313.70" y2="152.12" stroke="#000" stroke-width="0.8" stroke-linecap="butt"/>
<line x1="1059.50" y1="150.35" x2="1062.00" y2="150.35" stroke="#000" stroke-width="0.8" stroke-linecap="butt"/>
<line x1="1316.20" y1="150.35" x2="1313.70" y2="150.35" stroke="#000" stroke-width="0.8" stroke-linecap="butt"/>
<line x1="1059.50" y1="148.79" x2="1062.00" y2="148.79" stroke="#000" stroke-width="0.8" stroke-linecap="butt"/>
<line x1="1316.20" y1="148.79" x2="1313.70" y2="148.79" stroke="#000" stroke-width="0.8" stroke-linecap="butt"/>
<line x1="1059.50" y1="199.13" x2="1062.00" y2="199.13" stroke="#000" stroke-width="0.8" stroke-linecap="butt"/>
<line x1="1316.20" y1="199.13" x2="1313.70" y2="199.13" stroke="#000" stroke-width="0.8" stroke-linecap="butt"/>
<line x1="1059.50" y1="193.77" x2="1062.00" y2="193.77" stroke="#000" stroke-width="0.8" stroke-linecap="butt"/>
<line x1="1316.20" y1="193.77" x2="1313.70" y2="193.77" stroke="#000" stroke-width="0.8" stroke-linecap="butt"/>
<line x1="1059.50" y1="189.97" x2="1062.00" y2="189.97" stroke="#000" stroke-width="0.8" stroke-linecap="butt"/>
<line x1="1316.20" y1="189.97" x2="1313.70" y2="189.97" stroke="#000" stroke-width="0.8" stroke-linecap="butt"/>
<line x1="1059.50" y1="187.02" x2="1062.00" y2="187.02" stroke="#000" stroke-width="0.8" stroke-linecap="butt"/>
<line x1="1316.20" y1="187.02" x2="1313.70" y2="187.02" stroke="#000" stroke-width="0.8" stroke-linecap="butt"/>
<line x1="1059.50" y1="184.61" x2="1062.00" y2="184.61" stroke="#000" stroke-width="0.8" stroke-linecap="butt"/>
<line x1="1316.20" y1="184.61" x2="1313.70" y2="184.61" stroke="#000" stroke-width="0.8" stroke-linecap="butt"/>
<line x1="1059.50" y1="182.57" x2="1062.00" y2="182.57" stroke="#000" stroke-width="0.8" stroke-linecap="butt"/>
<line x1="1316.20" y1="182.57" x2="1313.70" y2="182.57" stroke="#000" stroke-width="0.8" stroke-linecap="butt"/>
<line x1="1059.50" y1="180.80" x2="1062.00" y2="180.80" stroke="#000" stroke-width="0.8" stroke-linecap="butt"/>
<line x1="1316.20" y1="180.80" x2="1313.70" y2="180.80" stroke="#000" stroke-width="0.8" stroke-linecap="butt"/>
<line x1="1059.50" y1="179.24" x2="1062.00" y2="179.24" stroke="#000" stroke-width="0.8" stroke-linecap="butt"/>
<line x1="1316.20" y1="179.24" x2="1313.70" y2="179.24" stroke="#000" stroke-width="0.8" stroke-linecap="butt"/>
<rect x="1059.50" y="25.60" width="256.70" height="182.70" fill="none" stroke="#000" stroke-width="1.2"/>
<rect x="1177.30" y="14.50" width="157.40" height="64.80" fill="#fff" stroke="#000" stroke-width="1.0"/>
<line x1="1187.20" y1="21.85" x2="1187.20" y2="30.15" stroke="#777777" stroke-width="1.4" stroke-linecap="butt"/>
<line x1="1190.20" y1="21.85" x2="1190.20" y2="30.15" stroke="#777777" stroke-width="1.4" stroke-linecap="butt"/>
<line x1="1193.20" y1="21.85" x2="1193.20" y2="30.15" stroke="#777777" stroke-width="1.4" stroke-linecap="butt"/>
<line x1="1196.20" y1="21.85" x2="1196.20" y2="30.15" stroke="#777777" stroke-width="1.4" stroke-linecap="butt"/>
<line x1="1199.20" y1="21.85" x2="1199.20" y2="30.15" stroke="#777777" stroke-width="1.4" stroke-linecap="butt"/>
<line x1="1202.20" y1="21.85" x2="1202.20" y2="30.15" stroke="#777777" stroke-width="1.4" stroke-linecap="butt"/>
<line x1="1205.20" y1="21.85" x2="1205.20" y2="30.15" stroke="#777777" stroke-width="1.4" stroke-linecap="butt"/>
<rect x="1187.20" y="41.65" width="3.70" height="8.30" fill="#0000ff"/>
<rect x="1195.30" y="41.65" width="4.90" height="8.30" fill="#0000ff"/>
<rect x="1204.20" y="41.65" width="3.80" height="8.30" fill="#0000ff"/>
<rect x="1182.90" y="62.45" width="29.10" height="8.50" fill="#ff0000"/>
<text transform="translate(1222.71,30.50) scale(1.0583,1)" font-family='"Liberation Sans", sans-serif' font-size="13.66" fill="#000">MSGD</text>
<text transform="translate(1222.72,50.90) scale(1.0556,1)" font-family='"Liberation Sans", sans-serif' font-size="13.66" fill="#000">Damped Newton</text>
<text transform="translate(1223.25,71.20) scale(1.0898,1)" font-family='"Liberation Sans", sans-serif' font-size="13.23" fill="#000">SFN</text>
<text transform="translate(1010.75,34.13) scale(0.9759,1)" font-family='"Liberation Sans", sans-serif' font-size="27.54" fill="#000">10</text>
<text transform="translate(1040.43,20.32) scale(0.9488,1)" font-family='"Liberation Sans", sans-serif' font-size="18.08" fill="#000">0</text>
<text transform="translate(1004.50,65.07) scale(0.9256,1)" font-family='"Liberation Sans", sans-serif' font-size="28.39" fill="#000">10</text>
<text transform="translate(1033.15,50.75) scale(0.9121,1)" font-family='"Liberation Sans", sans-serif' font-size="18.46" fill="#000">-1</text>
<text transform="translate(1004.50,95.52) scale(0.9256,1)" font-family='"Liberation Sans", sans-serif' font-size="28.39" fill="#000">10</text>
<text transform="translate(1033.67,81.40) scale(1.0084,1)" font-family='"Liberation Sans", sans-serif' font-size="18.47" fill="#000">-2</text>
<text transform="translate(1004.50,125.97) scale(0.9256,1)" font-family='"Liberation Sans", sans-serif' font-size="28.39" fill="#000">10</text>
<text transform="translate(1033.68,111.67) scale(1.0144,1)" font-family='"Liberation Sans", sans-serif' font-size="18.22" fill="#000">-3</text>
<text transform="translate(1004.50,156.42) scale(0.9256,1)" font-family='"Liberation Sans", sans-serif' font-size="28.39" fill="#000">10</text>
<text transform="translate(1033.69,142.30) scale(0.9680,1)" font-family='"Liberation Sans", sans-serif' font-size="18.75" fill="#000">-4</text>
<text transform="translate(1004.50,186.87) scale(0.9256,1)" font-family='"Liberation Sans", sans-serif' font-size="28.39" fill="#000">10</text>
<text transform="translate(1033.68,172.57) scale(0.9972,1)" font-family='"Liberation Sans", sans-serif' font-size="18.49" fill="#000">-5</text>
<text transform="translate(1004.50,217.32) scale(0.9256,1)" font-family='"Liberation Sans", sans-serif' font-size="28.39" fill="#000">10</text>
<text transform="translate(1033.68,203.02) scale(1.0144,1)" font-family='"Liberation Sans", sans-serif' font-size="18.22" fill="#000">-6</text>
<text transform="translate(1052.71,231.02) scale(0.9849,1)" font-family='"Liberation Sans", sans-serif' font-size="28.25" fill="#000">0</text>
<text transform="translate(1097.97,231.02) scale(0.9444,1)" font-family='"Liberation Sans", sans-serif' font-size="28.25" fill="#000">10</text>
<text transform="translate(1147.04,231.02) scale(0.9551,1)" font-family='"Liberation Sans", sans-serif' font-size="28.25" fill="#000">20</text>
<text transform="translate(1199.37,231.02) scale(0.9575,1)" font-family='"Liberation Sans", sans-serif' font-size="28.25" fill="#000">30</text>
<text transform="translate(1249.97,231.02) scale(0.9707,1)" font-family='"Liberation Sans", sans-serif' font-size="28.25" fill="#000">40</text>
<text transform="translate(1301.71,231.02) scale(0.9662,1)" font-family='"Liberation Sans", sans-serif' font-size="28.25" fill="#000">50</text>
<text transform="translate(1132.98,259.60) scale(1.0194,1)" font-family='"Liberation Sans", sans-serif' font-size="26.64" fill="#000"># epochs</text>
<text transform="translate(993.98,221.26) rotate(-90) scale(1.0013,1)" font-family='"Liberation Sans", sans-serif' font-size="27.44" fill="#000">|most negative λ|</text>
<g clip-path="url(#cd)">
<polyline points="155.3,378.0 276.2,442.8 427.2,458.2" fill="none" stroke="#303030" stroke-width="8.5" stroke-dasharray="1.0 1.8" stroke-linecap="butt" stroke-linejoin="round"/>
<circle cx="155.30" cy="378.00" r="6.50" fill="#000000" stroke="#000" stroke-width="0.8"/>
<circle cx="276.20" cy="442.80" r="6.50" fill="#000000" stroke="#000" stroke-width="0.8"/>
<circle cx="427.20" cy="458.20" r="6.50" fill="#000000" stroke="#000" stroke-width="0.8"/>
<polyline points="155.3,376.0 276.2,469.2 427.9,417.9" fill="none" stroke="#0000ff" stroke-width="6.5" stroke-dasharray="4.2 4.2" stroke-linecap="butt" stroke-linejoin="round"/>
<polygon points="155.30,367.00 160.80,376.00 155.30,385.00 149.80,376.00" fill="#0000ff" stroke="#000" stroke-width="0.8"/>
<polygon points="276.20,460.20 281.70,469.20 276.20,478.20 270.70,469.20" fill="#0000ff" stroke="#000" stroke-width="0.8"/>
<polygon points="427.90,408.90 433.40,417.90 427.90,426.90 422.40,417.90" fill="#0000ff" stroke="#000" stroke-width="0.8"/>
<polyline points="155.3,381.7 276.2,483.5 427.9,540.6" fill="none" stroke="#ff0000" stroke-width="9" stroke-linecap="butt" stroke-linejoin="miter"/>
<rect x="148.80" y="375.20" width="13.00" height="13.00" fill="#ff0000" stroke="#000" stroke-width="0.8"/>
<rect x="269.70" y="477.00" width="13.00" height="13.00" fill="#ff0000" stroke="#000" stroke-width="0.8"/>
<rect x="421.40" y="534.10" width="13.00" height="13.00" fill="#ff0000" stroke="#000" stroke-width="0.8"/>
</g>
<line x1="155.30" y1="365.30" x2="155.30" y2="557.20" stroke="#000" stroke-width="0.9" stroke-dasharray="1 2" stroke-linecap="butt" stroke-opacity="0.8"/>
<line x1="276.40" y1="365.30" x2="276.40" y2="557.20" stroke="#000" stroke-width="0.9" stroke-dasharray="1 2" stroke-linecap="butt" stroke-opacity="0.8"/>
<line x1="427.90" y1="365.30" x2="427.90" y2="557.20" stroke="#000" stroke-width="0.9" stroke-dasharray="1 2" stroke-linecap="butt" stroke-opacity="0.8"/>
<line x1="149.40" y1="382.30" x2="433.50" y2="382.30" stroke="#000" stroke-width="0.9" stroke-dasharray="1 2" stroke-linecap="butt" stroke-opacity="0.8"/>
<line x1="149.40" y1="546.00" x2="433.50" y2="546.00" stroke="#000" stroke-width="0.9" stroke-dasharray="1 2" stroke-linecap="butt" stroke-opacity="0.8"/>
<line x1="155.30" y1="557.20" x2="155.30" y2="552.20" stroke="#000" stroke-width="1" stroke-linecap="butt"/>
<line x1="155.30" y1="365.30" x2="155.30" y2="370.30" stroke="#000" stroke-width="1" stroke-linecap="butt"/>
<line x1="276.40" y1="557.20" x2="276.40" y2="552.20" stroke="#000" stroke-width="1" stroke-linecap="butt"/>
<line x1="276.40" y1="365.30" x2="276.40" y2="370.30" stroke="#000" stroke-width="1" stroke-linecap="butt"/>
<line x1="427.90" y1="557.20" x2="427.90" y2="552.20" stroke="#000" stroke-width="1" stroke-linecap="butt"/>
<line x1="427.90" y1="365.30" x2="427.90" y2="370.30" stroke="#000" stroke-width="1" stroke-linecap="butt"/>
<line x1="149.40" y1="382.30" x2="154.40" y2="382.30" stroke="#000" stroke-width="1" stroke-linecap="butt"/>
<line x1="433.50" y1="382.30" x2="428.50" y2="382.30" stroke="#000" stroke-width="1" stroke-linecap="butt"/>
<line x1="149.40" y1="546.00" x2="154.40" y2="546.00" stroke="#000" stroke-width="1" stroke-linecap="butt"/>
<line x1="433.50" y1="546.00" x2="428.50" y2="546.00" stroke="#000" stroke-width="1" stroke-linecap="butt"/>
<rect x="149.40" y="365.30" width="284.10" height="191.90" fill="none" stroke="#000" stroke-width="1.2"/>
<rect x="178.40" y="354.50" width="189.90" height="74.50" fill="#fff" stroke="#000" stroke-width="1"/>
<polyline points="189.5,366.5 212.3,366.5" fill="none" stroke="#000000" stroke-width="8" stroke-dasharray="0.85 1.95" stroke-linecap="butt" stroke-linejoin="round"/>
<circle cx="189.50" cy="366.50" r="6.30" fill="#000000" stroke="#000" stroke-width="0.8"/>
<circle cx="212.30" cy="366.50" r="6.30" fill="#000000" stroke="#000" stroke-width="0.8"/>
<rect x="197.90" y="386.70" width="4.80" height="7.40" fill="#0000ff"/>
<polygon points="189.50,381.20 195.00,390.40 189.50,399.60 184.00,390.40" fill="#0000ff" stroke="#000" stroke-width="0.8"/>
<polygon points="212.30,381.20 217.80,390.40 212.30,399.60 206.80,390.40" fill="#0000ff" stroke="#000" stroke-width="0.8"/>
<polyline points="189.6,414.0 212.1,414.0" fill="none" stroke="#ff0000" stroke-width="7" stroke-linecap="butt" stroke-linejoin="round"/>
<rect x="183.10" y="407.50" width="13.00" height="13.00" fill="#ff0000" stroke="#000" stroke-width="0.8"/>
<rect x="205.60" y="407.50" width="13.00" height="13.00" fill="#ff0000" stroke="#000" stroke-width="0.8"/>
<text transform="translate(229.26,372.20) scale(1.0485,1)" font-family='"Liberation Sans", sans-serif' font-size="15.55" fill="#000">MSGD</text>
<text transform="translate(229.12,395.30) scale(1.1616,1)" font-family='"Liberation Sans", sans-serif' font-size="15.55" fill="#000">Damped Newton</text>
<text transform="translate(229.89,418.70) scale(1.0058,1)" font-family='"Liberation Sans", sans-serif' font-size="15.55" fill="#000">SFN</text>
<text transform="translate(114.96,390.51) scale(1.0304,1)" font-family='"Liberation Sans", sans-serif' font-size="29.52" fill="#000">60</text>
<text transform="translate(116.47,553.81) scale(1.0025,1)" font-family='"Liberation Sans", sans-serif' font-size="29.52" fill="#000">32</text>
<text transform="translate(148.59,581.91) scale(1.0021,1)" font-family='"Liberation Sans", sans-serif' font-size="30.10" fill="#000">5</text>
<text transform="translate(260.13,581.91) scale(1.0511,1)" font-family='"Liberation Sans", sans-serif' font-size="29.66" fill="#000">25</text>
<text transform="translate(411.91,581.91) scale(0.9985,1)" font-family='"Liberation Sans", sans-serif' font-size="29.66" fill="#000">50</text>
<text transform="translate(192.25,612.00) scale(1.1816,1)" font-family='"Liberation Sans", sans-serif' font-size="29.09" fill="#000">#</text>
<text transform="translate(222.10,611.80) scale(1.1049,1)" font-family='"Liberation Sans", sans-serif' font-size="28.71" fill="#000">hidden units</text>
<text transform="translate(104.70,573.71) rotate(-90) scale(1.0941,1)" font-family='"Liberation Sans", sans-serif' font-size="28.78" fill="#000"><tspan font-size="28.78">Train error </tspan><tspan font-size="21.58">ϵ</tspan><tspan font-size="28.78"> (%)</tspan></text>
<g clip-path="url(#ce)">
<path d="M 626.00,410.00 C 627.67,412.17 631.67,420.12 636.00,423.00 C 640.33,425.88 645.25,426.32 652.00,427.30 C 658.75,428.28 665.68,428.23 676.50,428.90 C 687.32,429.57 701.32,430.48 716.90,431.30 C 732.48,432.12 753.08,433.12 770.00,433.80 C 786.92,434.48 800.13,434.87 818.40,435.40 C 836.67,435.93 869.40,436.73 879.60,437.00" fill="none" stroke="#6a6a6a" stroke-width="9" stroke-dasharray="1.3 1.7" stroke-linecap="butt" stroke-linejoin="round"/>
<polyline points="626.5,393.4 636.1,400.7 645.8,404.7 656.3,409.6 654.7,391.0 666.8,400.7 668.4,392.6 676.5,393.4 684.6,387.8 691.0,399.0 704.0,402.3 716.9,408.7 729.8,411.2 742.7,415.2 757.2,418.4 773.4,421.7 802.3,421.7 834.6,424.9 879.6,427.3" fill="none" stroke="#0000ff" stroke-width="8" stroke-dasharray="4.2 4.2" stroke-linecap="butt" stroke-linejoin="round"/>
<path d="M 626.00,399.00 C 627.17,401.17 630.50,407.68 633.00,412.00 C 635.50,416.32 637.78,420.33 641.00,424.90 C 644.22,429.47 648.27,435.37 652.30,439.40 C 656.33,443.43 660.37,446.13 665.20,449.10 C 670.03,452.07 675.38,455.05 681.30,457.20 C 687.22,459.35 692.08,460.80 700.70,462.00 C 709.32,463.20 721.45,463.85 733.00,464.40 C 744.55,464.95 745.53,465.02 770.00,465.30 C 794.47,465.58 861.50,465.97 879.80,466.10" fill="none" stroke="#ff0000" stroke-width="10.5" stroke-linecap="butt" stroke-linejoin="round"/>
</g>
<line x1="676.52" y1="381.60" x2="676.52" y2="557.10" stroke="#000" stroke-width="0.9" stroke-dasharray="1 2" stroke-linecap="butt" stroke-opacity="0.8"/>
<line x1="727.34" y1="381.60" x2="727.34" y2="557.10" stroke="#000" stroke-width="0.9" stroke-dasharray="1 2" stroke-linecap="butt" stroke-opacity="0.8"/>
<line x1="778.16" y1="381.60" x2="778.16" y2="557.10" stroke="#000" stroke-width="0.9" stroke-dasharray="1 2" stroke-linecap="butt" stroke-opacity="0.8"/>
<line x1="828.98" y1="381.60" x2="828.98" y2="557.10" stroke="#000" stroke-width="0.9" stroke-dasharray="1 2" stroke-linecap="butt" stroke-opacity="0.8"/>
<line x1="625.70" y1="557.10" x2="625.70" y2="552.10" stroke="#000" stroke-width="1" stroke-linecap="butt"/>
<line x1="625.70" y1="381.60" x2="625.70" y2="386.60" stroke="#000" stroke-width="1" stroke-linecap="butt"/>
<line x1="676.52" y1="557.10" x2="676.52" y2="552.10" stroke="#000" stroke-width="1" stroke-linecap="butt"/>
<line x1="676.52" y1="381.60" x2="676.52" y2="386.60" stroke="#000" stroke-width="1" stroke-linecap="butt"/>
<line x1="727.34" y1="557.10" x2="727.34" y2="552.10" stroke="#000" stroke-width="1" stroke-linecap="butt"/>
<line x1="727.34" y1="381.60" x2="727.34" y2="386.60" stroke="#000" stroke-width="1" stroke-linecap="butt"/>
<line x1="778.16" y1="557.10" x2="778.16" y2="552.10" stroke="#000" stroke-width="1" stroke-linecap="butt"/>
<line x1="778.16" y1="381.60" x2="778.16" y2="386.60" stroke="#000" stroke-width="1" stroke-linecap="butt"/>
<line x1="828.98" y1="557.10" x2="828.98" y2="552.10" stroke="#000" stroke-width="1" stroke-linecap="butt"/>
<line x1="828.98" y1="381.60" x2="828.98" y2="386.60" stroke="#000" stroke-width="1" stroke-linecap="butt"/>
<line x1="879.80" y1="557.10" x2="879.80" y2="552.10" stroke="#000" stroke-width="1" stroke-linecap="butt"/>
<line x1="879.80" y1="381.60" x2="879.80" y2="386.60" stroke="#000" stroke-width="1" stroke-linecap="butt"/>
<line x1="625.70" y1="504.27" x2="628.20" y2="504.27" stroke="#000" stroke-width="0.8" stroke-linecap="butt"/>
<line x1="879.80" y1="504.27" x2="877.30" y2="504.27" stroke="#000" stroke-width="0.8" stroke-linecap="butt"/>
<line x1="625.70" y1="473.37" x2="628.20" y2="473.37" stroke="#000" stroke-width="0.8" stroke-linecap="butt"/>
<line x1="879.80" y1="473.37" x2="877.30" y2="473.37" stroke="#000" stroke-width="0.8" stroke-linecap="butt"/>
<line x1="625.70" y1="451.44" x2="628.20" y2="451.44" stroke="#000" stroke-width="0.8" stroke-linecap="butt"/>
<line x1="879.80" y1="451.44" x2="877.30" y2="451.44" stroke="#000" stroke-width="0.8" stroke-linecap="butt"/>
<line x1="625.70" y1="434.43" x2="628.20" y2="434.43" stroke="#000" stroke-width="0.8" stroke-linecap="butt"/>
<line x1="879.80" y1="434.43" x2="877.30" y2="434.43" stroke="#000" stroke-width="0.8" stroke-linecap="butt"/>
<line x1="625.70" y1="420.53" x2="628.20" y2="420.53" stroke="#000" stroke-width="0.8" stroke-linecap="butt"/>
<line x1="879.80" y1="420.53" x2="877.30" y2="420.53" stroke="#000" stroke-width="0.8" stroke-linecap="butt"/>
<line x1="625.70" y1="408.79" x2="628.20" y2="408.79" stroke="#000" stroke-width="0.8" stroke-linecap="butt"/>
<line x1="879.80" y1="408.79" x2="877.30" y2="408.79" stroke="#000" stroke-width="0.8" stroke-linecap="butt"/>
<line x1="625.70" y1="398.61" x2="628.20" y2="398.61" stroke="#000" stroke-width="0.8" stroke-linecap="butt"/>
<line x1="879.80" y1="398.61" x2="877.30" y2="398.61" stroke="#000" stroke-width="0.8" stroke-linecap="butt"/>
<line x1="625.70" y1="389.63" x2="628.20" y2="389.63" stroke="#000" stroke-width="0.8" stroke-linecap="butt"/>
<line x1="879.80" y1="389.63" x2="877.30" y2="389.63" stroke="#000" stroke-width="0.8" stroke-linecap="butt"/>
<rect x="625.70" y="381.60" width="254.10" height="175.50" fill="none" stroke="#000" stroke-width="1.2"/>
<rect x="724.50" y="476.40" width="173.40" height="68.90" fill="#fff" stroke="#000" stroke-width="1.0"/>
<line x1="734.90" y1="484.25" x2="734.90" y2="492.75" stroke="#777777" stroke-width="1.4" stroke-linecap="butt"/>
<line x1="737.89" y1="484.25" x2="737.89" y2="492.75" stroke="#777777" stroke-width="1.4" stroke-linecap="butt"/>
<line x1="740.87" y1="484.25" x2="740.87" y2="492.75" stroke="#777777" stroke-width="1.4" stroke-linecap="butt"/>
<line x1="743.86" y1="484.25" x2="743.86" y2="492.75" stroke="#777777" stroke-width="1.4" stroke-linecap="butt"/>
<line x1="746.84" y1="484.25" x2="746.84" y2="492.75" stroke="#777777" stroke-width="1.4" stroke-linecap="butt"/>
<line x1="749.83" y1="484.25" x2="749.83" y2="492.75" stroke="#777777" stroke-width="1.4" stroke-linecap="butt"/>
<line x1="752.81" y1="484.25" x2="752.81" y2="492.75" stroke="#777777" stroke-width="1.4" stroke-linecap="butt"/>
<line x1="755.80" y1="484.25" x2="755.80" y2="492.75" stroke="#777777" stroke-width="1.4" stroke-linecap="butt"/>
<rect x="734.50" y="505.45" width="4.00" height="8.10" fill="#0000ff"/>
<rect x="743.20" y="505.45" width="5.30" height="8.10" fill="#0000ff"/>
<rect x="752.40" y="505.45" width="3.80" height="8.10" fill="#0000ff"/>
<rect x="730.20" y="527.05" width="30.00" height="8.50" fill="#ff0000"/>
<text transform="translate(771.07,493.60) scale(1.0284,1)" font-family='"Liberation Sans", sans-serif' font-size="14.53" fill="#000">MSGD</text>
<text transform="translate(770.95,514.40) scale(1.1336,1)" font-family='"Liberation Sans", sans-serif' font-size="14.53" fill="#000">Damped Newton</text>
<text transform="translate(771.66,535.80) scale(0.9734,1)" font-family='"Liberation Sans", sans-serif' font-size="14.53" fill="#000">SFN</text>
<text transform="translate(569.75,390.01) scale(1.0464,1)" font-family='"Liberation Sans", sans-serif' font-size="29.52" fill="#000">10</text>
<text transform="translate(604.43,375.60) scale(1.0324,1)" font-family='"Liberation Sans", sans-serif' font-size="20.62" fill="#000">2</text>
<text transform="translate(569.75,566.41) scale(1.0515,1)" font-family='"Liberation Sans", sans-serif' font-size="29.38" fill="#000">10</text>
<text transform="translate(604.49,551.70) scale(1.0523,1)" font-family='"Liberation Sans", sans-serif' font-size="20.06" fill="#000">1</text>
<text transform="translate(619.12,581.71) scale(1.0013,1)" font-family='"Liberation Sans", sans-serif' font-size="30.08" fill="#000">0</text>
<text transform="translate(661.17,581.71) scale(1.0106,1)" font-family='"Liberation Sans", sans-serif' font-size="30.08" fill="#000">20</text>
<text transform="translate(711.79,581.71) scale(1.0222,1)" font-family='"Liberation Sans", sans-serif' font-size="30.08" fill="#000">40</text>
<text transform="translate(761.90,581.71) scale(1.0501,1)" font-family='"Liberation Sans", sans-serif' font-size="30.08" fill="#000">60</text>
<text transform="translate(812.86,581.71) scale(1.0265,1)" font-family='"Liberation Sans", sans-serif' font-size="30.08" fill="#000">80</text>
<text transform="translate(856.15,581.71) scale(1.0251,1)" font-family='"Liberation Sans", sans-serif' font-size="30.08" fill="#000">100</text>
<text transform="translate(690.05,612.00) scale(1.1879,1)" font-family='"Liberation Sans", sans-serif' font-size="29.09" fill="#000">#</text>
<text transform="translate(720.11,612.00) scale(1.0518,1)" font-family='"Liberation Sans", sans-serif' font-size="28.98" fill="#000">epochs</text>
<text transform="translate(559.40,581.70) rotate(-90) scale(1.0851,1)" font-family='"Liberation Sans", sans-serif' font-size="28.92" fill="#000"><tspan font-size="28.92">Train error </tspan><tspan font-size="21.69">ϵ</tspan><tspan font-size="28.92"> (%)</tspan></text>
<g clip-path="url(#cf)">
<polyline points="1070.5,405.7 1087.0,409.4 1116.4,413.0 1150.0,413.0 1208.7,413.8 1303.0,416.0" fill="none" stroke="#6a6a6a" stroke-width="9" stroke-dasharray="1.3 1.7" stroke-linecap="butt" stroke-linejoin="round"/>
<polyline points="1070.9,424.0 1084.0,407.2 1094.4,413.8 1101.7,422.6 1104.6,430.0 1109.0,437.3 1117.0,435.8 1120.8,432.9 1123.7,440.2 1123.7,450.5 1131.0,450.5 1141.4,452.0 1148.7,454.9 1156.0,459.3 1161.0,420.0 1161.0,456.0 1164.1,462.9 1172.9,470.0 1185.2,477.0 1199.3,481.4 1217.0,482.3 1225.8,478.8 1228.4,453.2 1228.4,478.8 1238.1,482.3 1250.4,484.1 1259.3,470.0 1261.0,487.6 1266.3,498.1 1280.4,499.9 1294.5,501.7 1303.0,498.1" fill="none" stroke="#0000ff" stroke-width="8" stroke-dasharray="4.2 4.2" stroke-linecap="butt" stroke-linejoin="round"/>
<polyline points="1070.0,412.0 1076.0,402.0 1079.7,424.0 1084.0,413.8 1091.4,416.7 1090.6,435.8 1097.6,437.6 1095.8,458.7 1102.9,449.9 1104.6,476.3 1115.2,460.5 1118.7,488.7 1129.3,478.1 1136.3,497.5 1141.6,486.9 1148.7,495.7 1155.7,479.9 1161.0,515.1 1166.3,493.9 1171.5,518.6 1176.8,486.9 1181.7,487.6 1185.2,507.0 1187.0,499.9 1188.8,528.1 1194.1,524.6 1201.1,533.4 1211.7,536.9 1224.0,533.4 1234.6,538.7 1255.7,538.7 1264.5,524.6 1271.6,538.7 1285.7,537.8 1291.0,528.1 1298.0,526.3 1303.3,531.6" fill="none" stroke="#ff0000" stroke-width="11.5" stroke-linecap="butt" stroke-linejoin="round"/>
</g>
<line x1="1116.46" y1="383.50" x2="1116.46" y2="554.00" stroke="#000" stroke-width="0.9" stroke-dasharray="1 2" stroke-linecap="butt" stroke-opacity="0.8"/>
<line x1="1163.22" y1="383.50" x2="1163.22" y2="554.00" stroke="#000" stroke-width="0.9" stroke-dasharray="1 2" stroke-linecap="butt" stroke-opacity="0.8"/>
<line x1="1209.98" y1="383.50" x2="1209.98" y2="554.00" stroke="#000" stroke-width="0.9" stroke-dasharray="1 2" stroke-linecap="butt" stroke-opacity="0.8"/>
<line x1="1256.74" y1="383.50" x2="1256.74" y2="554.00" stroke="#000" stroke-width="0.9" stroke-dasharray="1 2" stroke-linecap="butt" stroke-opacity="0.8"/>
<line x1="1069.70" y1="407.86" x2="1303.50" y2="407.86" stroke="#000" stroke-width="0.9" stroke-dasharray="1 2" stroke-linecap="butt" stroke-opacity="0.8"/>
<line x1="1069.70" y1="432.21" x2="1303.50" y2="432.21" stroke="#000" stroke-width="0.9" stroke-dasharray="1 2" stroke-linecap="butt" stroke-opacity="0.8"/>
<line x1="1069.70" y1="456.57" x2="1303.50" y2="456.57" stroke="#000" stroke-width="0.9" stroke-dasharray="1 2" stroke-linecap="butt" stroke-opacity="0.8"/>
<line x1="1069.70" y1="480.93" x2="1303.50" y2="480.93" stroke="#000" stroke-width="0.9" stroke-dasharray="1 2" stroke-linecap="butt" stroke-opacity="0.8"/>
<line x1="1069.70" y1="505.29" x2="1303.50" y2="505.29" stroke="#000" stroke-width="0.9" stroke-dasharray="1 2" stroke-linecap="butt" stroke-opacity="0.8"/>
<line x1="1069.70" y1="529.64" x2="1303.50" y2="529.64" stroke="#000" stroke-width="0.9" stroke-dasharray="1 2" stroke-linecap="butt" stroke-opacity="0.8"/>
<line x1="1069.70" y1="554.00" x2="1069.70" y2="549.00" stroke="#000" stroke-width="1" stroke-linecap="butt"/>
<line x1="1069.70" y1="383.50" x2="1069.70" y2="388.50" stroke="#000" stroke-width="1" stroke-linecap="butt"/>
<line x1="1116.46" y1="554.00" x2="1116.46" y2="549.00" stroke="#000" stroke-width="1" stroke-linecap="butt"/>
<line x1="1116.46" y1="383.50" x2="1116.46" y2="388.50" stroke="#000" stroke-width="1" stroke-linecap="butt"/>
<line x1="1163.22" y1="554.00" x2="1163.22" y2="549.00" stroke="#000" stroke-width="1" stroke-linecap="butt"/>
<line x1="1163.22" y1="383.50" x2="1163.22" y2="388.50" stroke="#000" stroke-width="1" stroke-linecap="butt"/>
<line x1="1209.98" y1="554.00" x2="1209.98" y2="549.00" stroke="#000" stroke-width="1" stroke-linecap="butt"/>
<line x1="1209.98" y1="383.50" x2="1209.98" y2="388.50" stroke="#000" stroke-width="1" stroke-linecap="butt"/>
<line x1="1256.74" y1="554.00" x2="1256.74" y2="549.00" stroke="#000" stroke-width="1" stroke-linecap="butt"/>
<line x1="1256.74" y1="383.50" x2="1256.74" y2="388.50" stroke="#000" stroke-width="1" stroke-linecap="butt"/>
<line x1="1303.50" y1="554.00" x2="1303.50" y2="549.00" stroke="#000" stroke-width="1" stroke-linecap="butt"/>
<line x1="1303.50" y1="383.50" x2="1303.50" y2="388.50" stroke="#000" stroke-width="1" stroke-linecap="butt"/>
<line x1="1069.70" y1="407.86" x2="1074.70" y2="407.86" stroke="#000" stroke-width="1" stroke-linecap="butt"/>
<line x1="1303.50" y1="407.86" x2="1298.50" y2="407.86" stroke="#000" stroke-width="1" stroke-linecap="butt"/>
<line x1="1069.70" y1="432.21" x2="1074.70" y2="432.21" stroke="#000" stroke-width="1" stroke-linecap="butt"/>
<line x1="1303.50" y1="432.21" x2="1298.50" y2="432.21" stroke="#000" stroke-width="1" stroke-linecap="butt"/>
<line x1="1069.70" y1="456.57" x2="1074.70" y2="456.57" stroke="#000" stroke-width="1" stroke-linecap="butt"/>
<line x1="1303.50" y1="456.57" x2="1298.50" y2="456.57" stroke="#000" stroke-width="1" stroke-linecap="butt"/>
<line x1="1069.70" y1="480.93" x2="1074.70" y2="480.93" stroke="#000" stroke-width="1" stroke-linecap="butt"/>
<line x1="1303.50" y1="480.93" x2="1298.50" y2="480.93" stroke="#000" stroke-width="1" stroke-linecap="butt"/>
<line x1="1069.70" y1="505.29" x2="1074.70" y2="505.29" stroke="#000" stroke-width="1" stroke-linecap="butt"/>
<line x1="1303.50" y1="505.29" x2="1298.50" y2="505.29" stroke="#000" stroke-width="1" stroke-linecap="butt"/>
<line x1="1069.70" y1="529.64" x2="1074.70" y2="529.64" stroke="#000" stroke-width="1" stroke-linecap="butt"/>
<line x1="1303.50" y1="529.64" x2="1298.50" y2="529.64" stroke="#000" stroke-width="1" stroke-linecap="butt"/>
<line x1="1069.70" y1="400.52" x2="1072.20" y2="400.52" stroke="#000" stroke-width="0.8" stroke-linecap="butt"/>
<line x1="1303.50" y1="400.52" x2="1301.00" y2="400.52" stroke="#000" stroke-width="0.8" stroke-linecap="butt"/>
<line x1="1069.70" y1="396.24" x2="1072.20" y2="396.24" stroke="#000" stroke-width="0.8" stroke-linecap="butt"/>
<line x1="1303.50" y1="396.24" x2="1301.00" y2="396.24" stroke="#000" stroke-width="0.8" stroke-linecap="butt"/>
<line x1="1069.70" y1="393.19" x2="1072.20" y2="393.19" stroke="#000" stroke-width="0.8" stroke-linecap="butt"/>
<line x1="1303.50" y1="393.19" x2="1301.00" y2="393.19" stroke="#000" stroke-width="0.8" stroke-linecap="butt"/>
<line x1="1069.70" y1="390.83" x2="1072.20" y2="390.83" stroke="#000" stroke-width="0.8" stroke-linecap="butt"/>
<line x1="1303.50" y1="390.83" x2="1301.00" y2="390.83" stroke="#000" stroke-width="0.8" stroke-linecap="butt"/>
<line x1="1069.70" y1="388.90" x2="1072.20" y2="388.90" stroke="#000" stroke-width="0.8" stroke-linecap="butt"/>
<line x1="1303.50" y1="388.90" x2="1301.00" y2="388.90" stroke="#000" stroke-width="0.8" stroke-linecap="butt"/>
<line x1="1069.70" y1="387.27" x2="1072.20" y2="387.27" stroke="#000" stroke-width="0.8" stroke-linecap="butt"/>
<line x1="1303.50" y1="387.27" x2="1301.00" y2="387.27" stroke="#000" stroke-width="0.8" stroke-linecap="butt"/>
<line x1="1069.70" y1="385.86" x2="1072.20" y2="385.86" stroke="#000" stroke-width="0.8" stroke-linecap="butt"/>
<line x1="1303.50" y1="385.86" x2="1301.00" y2="385.86" stroke="#000" stroke-width="0.8" stroke-linecap="butt"/>
<line x1="1069.70" y1="384.61" x2="1072.20" y2="384.61" stroke="#000" stroke-width="0.8" stroke-linecap="butt"/>
<line x1="1303.50" y1="384.61" x2="1301.00" y2="384.61" stroke="#000" stroke-width="0.8" stroke-linecap="butt"/>
<line x1="1069.70" y1="424.88" x2="1072.20" y2="424.88" stroke="#000" stroke-width="0.8" stroke-linecap="butt"/>
<line x1="1303.50" y1="424.88" x2="1301.00" y2="424.88" stroke="#000" stroke-width="0.8" stroke-linecap="butt"/>
<line x1="1069.70" y1="420.59" x2="1072.20" y2="420.59" stroke="#000" stroke-width="0.8" stroke-linecap="butt"/>
<line x1="1303.50" y1="420.59" x2="1301.00" y2="420.59" stroke="#000" stroke-width="0.8" stroke-linecap="butt"/>
<line x1="1069.70" y1="417.55" x2="1072.20" y2="417.55" stroke="#000" stroke-width="0.8" stroke-linecap="butt"/>
<line x1="1303.50" y1="417.55" x2="1301.00" y2="417.55" stroke="#000" stroke-width="0.8" stroke-linecap="butt"/>
<line x1="1069.70" y1="415.19" x2="1072.20" y2="415.19" stroke="#000" stroke-width="0.8" stroke-linecap="butt"/>
<line x1="1303.50" y1="415.19" x2="1301.00" y2="415.19" stroke="#000" stroke-width="0.8" stroke-linecap="butt"/>
<line x1="1069.70" y1="413.26" x2="1072.20" y2="413.26" stroke="#000" stroke-width="0.8" stroke-linecap="butt"/>
<line x1="1303.50" y1="413.26" x2="1301.00" y2="413.26" stroke="#000" stroke-width="0.8" stroke-linecap="butt"/>
<line x1="1069.70" y1="411.63" x2="1072.20" y2="411.63" stroke="#000" stroke-width="0.8" stroke-linecap="butt"/>
<line x1="1303.50" y1="411.63" x2="1301.00" y2="411.63" stroke="#000" stroke-width="0.8" stroke-linecap="butt"/>
<line x1="1069.70" y1="410.22" x2="1072.20" y2="410.22" stroke="#000" stroke-width="0.8" stroke-linecap="butt"/>
<line x1="1303.50" y1="410.22" x2="1301.00" y2="410.22" stroke="#000" stroke-width="0.8" stroke-linecap="butt"/>
<line x1="1069.70" y1="408.97" x2="1072.20" y2="408.97" stroke="#000" stroke-width="0.8" stroke-linecap="butt"/>
<line x1="1303.50" y1="408.97" x2="1301.00" y2="408.97" stroke="#000" stroke-width="0.8" stroke-linecap="butt"/>
<line x1="1069.70" y1="449.24" x2="1072.20" y2="449.24" stroke="#000" stroke-width="0.8" stroke-linecap="butt"/>
<line x1="1303.50" y1="449.24" x2="1301.00" y2="449.24" stroke="#000" stroke-width="0.8" stroke-linecap="butt"/>
<line x1="1069.70" y1="444.95" x2="1072.20" y2="444.95" stroke="#000" stroke-width="0.8" stroke-linecap="butt"/>
<line x1="1303.50" y1="444.95" x2="1301.00" y2="444.95" stroke="#000" stroke-width="0.8" stroke-linecap="butt"/>
<line x1="1069.70" y1="441.91" x2="1072.20" y2="441.91" stroke="#000" stroke-width="0.8" stroke-linecap="butt"/>
<line x1="1303.50" y1="441.91" x2="1301.00" y2="441.91" stroke="#000" stroke-width="0.8" stroke-linecap="butt"/>
<line x1="1069.70" y1="439.55" x2="1072.20" y2="439.55" stroke="#000" stroke-width="0.8" stroke-linecap="butt"/>
<line x1="1303.50" y1="439.55" x2="1301.00" y2="439.55" stroke="#000" stroke-width="0.8" stroke-linecap="butt"/>
<line x1="1069.70" y1="437.62" x2="1072.20" y2="437.62" stroke="#000" stroke-width="0.8" stroke-linecap="butt"/>
<line x1="1303.50" y1="437.62" x2="1301.00" y2="437.62" stroke="#000" stroke-width="0.8" stroke-linecap="butt"/>
<line x1="1069.70" y1="435.99" x2="1072.20" y2="435.99" stroke="#000" stroke-width="0.8" stroke-linecap="butt"/>
<line x1="1303.50" y1="435.99" x2="1301.00" y2="435.99" stroke="#000" stroke-width="0.8" stroke-linecap="butt"/>
<line x1="1069.70" y1="434.57" x2="1072.20" y2="434.57" stroke="#000" stroke-width="0.8" stroke-linecap="butt"/>
<line x1="1303.50" y1="434.57" x2="1301.00" y2="434.57" stroke="#000" stroke-width="0.8" stroke-linecap="butt"/>
<line x1="1069.70" y1="433.33" x2="1072.20" y2="433.33" stroke="#000" stroke-width="0.8" stroke-linecap="butt"/>
<line x1="1303.50" y1="433.33" x2="1301.00" y2="433.33" stroke="#000" stroke-width="0.8" stroke-linecap="butt"/>
<line x1="1069.70" y1="473.60" x2="1072.20" y2="473.60" stroke="#000" stroke-width="0.8" stroke-linecap="butt"/>
<line x1="1303.50" y1="473.60" x2="1301.00" y2="473.60" stroke="#000" stroke-width="0.8" stroke-linecap="butt"/>
<line x1="1069.70" y1="469.31" x2="1072.20" y2="469.31" stroke="#000" stroke-width="0.8" stroke-linecap="butt"/>
<line x1="1303.50" y1="469.31" x2="1301.00" y2="469.31" stroke="#000" stroke-width="0.8" stroke-linecap="butt"/>
<line x1="1069.70" y1="466.26" x2="1072.20" y2="466.26" stroke="#000" stroke-width="0.8" stroke-linecap="butt"/>
<line x1="1303.50" y1="466.26" x2="1301.00" y2="466.26" stroke="#000" stroke-width="0.8" stroke-linecap="butt"/>
<line x1="1069.70" y1="463.90" x2="1072.20" y2="463.90" stroke="#000" stroke-width="0.8" stroke-linecap="butt"/>
<line x1="1303.50" y1="463.90" x2="1301.00" y2="463.90" stroke="#000" stroke-width="0.8" stroke-linecap="butt"/>
<line x1="1069.70" y1="461.98" x2="1072.20" y2="461.98" stroke="#000" stroke-width="0.8" stroke-linecap="butt"/>
<line x1="1303.50" y1="461.98" x2="1301.00" y2="461.98" stroke="#000" stroke-width="0.8" stroke-linecap="butt"/>
<line x1="1069.70" y1="460.34" x2="1072.20" y2="460.34" stroke="#000" stroke-width="0.8" stroke-linecap="butt"/>
<line x1="1303.50" y1="460.34" x2="1301.00" y2="460.34" stroke="#000" stroke-width="0.8" stroke-linecap="butt"/>
<line x1="1069.70" y1="458.93" x2="1072.20" y2="458.93" stroke="#000" stroke-width="0.8" stroke-linecap="butt"/>
<line x1="1303.50" y1="458.93" x2="1301.00" y2="458.93" stroke="#000" stroke-width="0.8" stroke-linecap="butt"/>
<line x1="1069.70" y1="457.69" x2="1072.20" y2="457.69" stroke="#000" stroke-width="0.8" stroke-linecap="butt"/>
<line x1="1303.50" y1="457.69" x2="1301.00" y2="457.69" stroke="#000" stroke-width="0.8" stroke-linecap="butt"/>
<line x1="1069.70" y1="497.95" x2="1072.20" y2="497.95" stroke="#000" stroke-width="0.8" stroke-linecap="butt"/>
<line x1="1303.50" y1="497.95" x2="1301.00" y2="497.95" stroke="#000" stroke-width="0.8" stroke-linecap="butt"/>
<line x1="1069.70" y1="493.66" x2="1072.20" y2="493.66" stroke="#000" stroke-width="0.8" stroke-linecap="butt"/>
<line x1="1303.50" y1="493.66" x2="1301.00" y2="493.66" stroke="#000" stroke-width="0.8" stroke-linecap="butt"/>
<line x1="1069.70" y1="490.62" x2="1072.20" y2="490.62" stroke="#000" stroke-width="0.8" stroke-linecap="butt"/>
<line x1="1303.50" y1="490.62" x2="1301.00" y2="490.62" stroke="#000" stroke-width="0.8" stroke-linecap="butt"/>
<line x1="1069.70" y1="488.26" x2="1072.20" y2="488.26" stroke="#000" stroke-width="0.8" stroke-linecap="butt"/>
<line x1="1303.50" y1="488.26" x2="1301.00" y2="488.26" stroke="#000" stroke-width="0.8" stroke-linecap="butt"/>
<line x1="1069.70" y1="486.33" x2="1072.20" y2="486.33" stroke="#000" stroke-width="0.8" stroke-linecap="butt"/>
<line x1="1303.50" y1="486.33" x2="1301.00" y2="486.33" stroke="#000" stroke-width="0.8" stroke-linecap="butt"/>
<line x1="1069.70" y1="484.70" x2="1072.20" y2="484.70" stroke="#000" stroke-width="0.8" stroke-linecap="butt"/>
<line x1="1303.50" y1="484.70" x2="1301.00" y2="484.70" stroke="#000" stroke-width="0.8" stroke-linecap="butt"/>
<line x1="1069.70" y1="483.29" x2="1072.20" y2="483.29" stroke="#000" stroke-width="0.8" stroke-linecap="butt"/>
<line x1="1303.50" y1="483.29" x2="1301.00" y2="483.29" stroke="#000" stroke-width="0.8" stroke-linecap="butt"/>
<line x1="1069.70" y1="482.04" x2="1072.20" y2="482.04" stroke="#000" stroke-width="0.8" stroke-linecap="butt"/>
<line x1="1303.50" y1="482.04" x2="1301.00" y2="482.04" stroke="#000" stroke-width="0.8" stroke-linecap="butt"/>
<line x1="1069.70" y1="522.31" x2="1072.20" y2="522.31" stroke="#000" stroke-width="0.8" stroke-linecap="butt"/>
<line x1="1303.50" y1="522.31" x2="1301.00" y2="522.31" stroke="#000" stroke-width="0.8" stroke-linecap="butt"/>
<line x1="1069.70" y1="518.02" x2="1072.20" y2="518.02" stroke="#000" stroke-width="0.8" stroke-linecap="butt"/>
<line x1="1303.50" y1="518.02" x2="1301.00" y2="518.02" stroke="#000" stroke-width="0.8" stroke-linecap="butt"/>
<line x1="1069.70" y1="514.98" x2="1072.20" y2="514.98" stroke="#000" stroke-width="0.8" stroke-linecap="butt"/>
<line x1="1303.50" y1="514.98" x2="1301.00" y2="514.98" stroke="#000" stroke-width="0.8" stroke-linecap="butt"/>
<line x1="1069.70" y1="512.62" x2="1072.20" y2="512.62" stroke="#000" stroke-width="0.8" stroke-linecap="butt"/>
<line x1="1303.50" y1="512.62" x2="1301.00" y2="512.62" stroke="#000" stroke-width="0.8" stroke-linecap="butt"/>
<line x1="1069.70" y1="510.69" x2="1072.20" y2="510.69" stroke="#000" stroke-width="0.8" stroke-linecap="butt"/>
<line x1="1303.50" y1="510.69" x2="1301.00" y2="510.69" stroke="#000" stroke-width="0.8" stroke-linecap="butt"/>
<line x1="1069.70" y1="509.06" x2="1072.20" y2="509.06" stroke="#000" stroke-width="0.8" stroke-linecap="butt"/>
<line x1="1303.50" y1="509.06" x2="1301.00" y2="509.06" stroke="#000" stroke-width="0.8" stroke-linecap="butt"/>
<line x1="1069.70" y1="507.65" x2="1072.20" y2="507.65" stroke="#000" stroke-width="0.8" stroke-linecap="butt"/>
<line x1="1303.50" y1="507.65" x2="1301.00" y2="507.65" stroke="#000" stroke-width="0.8" stroke-linecap="butt"/>
<line x1="1069.70" y1="506.40" x2="1072.20" y2="506.40" stroke="#000" stroke-width="0.8" stroke-linecap="butt"/>
<line x1="1303.50" y1="506.40" x2="1301.00" y2="506.40" stroke="#000" stroke-width="0.8" stroke-linecap="butt"/>
<line x1="1069.70" y1="546.67" x2="1072.20" y2="546.67" stroke="#000" stroke-width="0.8" stroke-linecap="butt"/>
<line x1="1303.50" y1="546.67" x2="1301.00" y2="546.67" stroke="#000" stroke-width="0.8" stroke-linecap="butt"/>
<line x1="1069.70" y1="542.38" x2="1072.20" y2="542.38" stroke="#000" stroke-width="0.8" stroke-linecap="butt"/>
<line x1="1303.50" y1="542.38" x2="1301.00" y2="542.38" stroke="#000" stroke-width="0.8" stroke-linecap="butt"/>
<line x1="1069.70" y1="539.34" x2="1072.20" y2="539.34" stroke="#000" stroke-width="0.8" stroke-linecap="butt"/>
<line x1="1303.50" y1="539.34" x2="1301.00" y2="539.34" stroke="#000" stroke-width="0.8" stroke-linecap="butt"/>
<line x1="1069.70" y1="536.98" x2="1072.20" y2="536.98" stroke="#000" stroke-width="0.8" stroke-linecap="butt"/>
<line x1="1303.50" y1="536.98" x2="1301.00" y2="536.98" stroke="#000" stroke-width="0.8" stroke-linecap="butt"/>
<line x1="1069.70" y1="535.05" x2="1072.20" y2="535.05" stroke="#000" stroke-width="0.8" stroke-linecap="butt"/>
<line x1="1303.50" y1="535.05" x2="1301.00" y2="535.05" stroke="#000" stroke-width="0.8" stroke-linecap="butt"/>
<line x1="1069.70" y1="533.42" x2="1072.20" y2="533.42" stroke="#000" stroke-width="0.8" stroke-linecap="butt"/>
<line x1="1303.50" y1="533.42" x2="1301.00" y2="533.42" stroke="#000" stroke-width="0.8" stroke-linecap="butt"/>
<line x1="1069.70" y1="532.00" x2="1072.20" y2="532.00" stroke="#000" stroke-width="0.8" stroke-linecap="butt"/>
<line x1="1303.50" y1="532.00" x2="1301.00" y2="532.00" stroke="#000" stroke-width="0.8" stroke-linecap="butt"/>
<line x1="1069.70" y1="530.76" x2="1072.20" y2="530.76" stroke="#000" stroke-width="0.8" stroke-linecap="butt"/>
<line x1="1303.50" y1="530.76" x2="1301.00" y2="530.76" stroke="#000" stroke-width="0.8" stroke-linecap="butt"/>
<rect x="1069.70" y="383.50" width="233.80" height="170.50" fill="none" stroke="#000" stroke-width="1.2"/>
<rect x="1158.40" y="335.60" width="173.10" height="67.30" fill="#fff" stroke="#000" stroke-width="1.0"/>
<line x1="1168.70" y1="343.65" x2="1168.70" y2="352.15" stroke="#777777" stroke-width="1.4" stroke-linecap="butt"/>
<line x1="1171.66" y1="343.65" x2="1171.66" y2="352.15" stroke="#777777" stroke-width="1.4" stroke-linecap="butt"/>
<line x1="1174.61" y1="343.65" x2="1174.61" y2="352.15" stroke="#777777" stroke-width="1.4" stroke-linecap="butt"/>
<line x1="1177.57" y1="343.65" x2="1177.57" y2="352.15" stroke="#777777" stroke-width="1.4" stroke-linecap="butt"/>
<line x1="1180.53" y1="343.65" x2="1180.53" y2="352.15" stroke="#777777" stroke-width="1.4" stroke-linecap="butt"/>
<line x1="1183.49" y1="343.65" x2="1183.49" y2="352.15" stroke="#777777" stroke-width="1.4" stroke-linecap="butt"/>
<line x1="1186.44" y1="343.65" x2="1186.44" y2="352.15" stroke="#777777" stroke-width="1.4" stroke-linecap="butt"/>
<line x1="1189.40" y1="343.65" x2="1189.40" y2="352.15" stroke="#777777" stroke-width="1.4" stroke-linecap="butt"/>
<rect x="1168.00" y="364.30" width="4.20" height="8.40" fill="#0000ff"/>
<rect x="1176.60" y="364.30" width="5.40" height="8.40" fill="#0000ff"/>
<rect x="1186.00" y="364.30" width="4.10" height="8.40" fill="#0000ff"/>
<rect x="1164.00" y="385.95" width="29.80" height="8.50" fill="#ff0000"/>
<text transform="translate(1204.78,352.60) scale(1.0134,1)" font-family='"Liberation Sans", sans-serif' font-size="14.68" fill="#000">MSGD</text>
<text transform="translate(1204.65,373.50) scale(1.1196,1)" font-family='"Liberation Sans", sans-serif' font-size="14.68" fill="#000">Damped Newton</text>
<text transform="translate(1205.36,394.60) scale(0.9637,1)" font-family='"Liberation Sans", sans-serif' font-size="14.68" fill="#000">SFN</text>
<text transform="translate(1009.98,392.70) scale(1.0899,1)" font-family='"Liberation Sans", sans-serif' font-size="30.37" fill="#000">10</text>
<text transform="translate(1047.65,377.40) scale(0.9752,1)" font-family='"Liberation Sans", sans-serif' font-size="20.93" fill="#000">1</text>
<text transform="translate(1009.98,417.20) scale(1.0899,1)" font-family='"Liberation Sans", sans-serif' font-size="30.37" fill="#000">10</text>
<text transform="translate(1046.64,401.70) scale(1.0800,1)" font-family='"Liberation Sans", sans-serif' font-size="20.34" fill="#000">0</text>
<text transform="translate(1003.14,441.42) scale(1.0635,1)" font-family='"Liberation Sans", sans-serif' font-size="30.37" fill="#000">10</text>
<text transform="translate(1039.83,426.11) scale(1.0445,1)" font-family='"Liberation Sans", sans-serif' font-size="20.93" fill="#000">-1</text>
<text transform="translate(1003.14,465.77) scale(1.0635,1)" font-family='"Liberation Sans", sans-serif' font-size="30.37" fill="#000">10</text>
<text transform="translate(1039.83,450.47) scale(1.0620,1)" font-family='"Liberation Sans", sans-serif' font-size="20.62" fill="#000">-2</text>
<text transform="translate(1003.14,490.13) scale(1.0635,1)" font-family='"Liberation Sans", sans-serif' font-size="30.37" fill="#000">10</text>
<text transform="translate(1039.83,474.63) scale(1.0683,1)" font-family='"Liberation Sans", sans-serif' font-size="20.34" fill="#000">-3</text>
<text transform="translate(1003.14,514.49) scale(1.0635,1)" font-family='"Liberation Sans", sans-serif' font-size="30.37" fill="#000">10</text>
<text transform="translate(1039.85,499.19) scale(1.0195,1)" font-family='"Liberation Sans", sans-serif' font-size="20.93" fill="#000">-4</text>
<text transform="translate(1003.14,538.85) scale(1.0635,1)" font-family='"Liberation Sans", sans-serif' font-size="30.37" fill="#000">10</text>
<text transform="translate(1039.84,523.34) scale(1.0503,1)" font-family='"Liberation Sans", sans-serif' font-size="20.64" fill="#000">-5</text>
<text transform="translate(1003.14,563.20) scale(1.0635,1)" font-family='"Liberation Sans", sans-serif' font-size="30.37" fill="#000">10</text>
<text transform="translate(1039.83,547.70) scale(1.0683,1)" font-family='"Liberation Sans", sans-serif' font-size="20.34" fill="#000">-6</text>
<text transform="translate(1062.58,579.71) scale(1.0361,1)" font-family='"Liberation Sans", sans-serif' font-size="30.08" fill="#000">0</text>
<text transform="translate(1100.17,579.71) scale(1.0756,1)" font-family='"Liberation Sans", sans-serif' font-size="30.08" fill="#000">20</text>
<text transform="translate(1146.77,579.71) scale(1.0634,1)" font-family='"Liberation Sans", sans-serif' font-size="30.08" fill="#000">40</text>
<text transform="translate(1193.53,579.71) scale(1.0923,1)" font-family='"Liberation Sans", sans-serif' font-size="30.08" fill="#000">60</text>
<text transform="translate(1240.38,579.71) scale(1.0846,1)" font-family='"Liberation Sans", sans-serif' font-size="30.08" fill="#000">80</text>
<text transform="translate(1279.14,579.71) scale(1.0722,1)" font-family='"Liberation Sans", sans-serif' font-size="30.08" fill="#000">100</text>
<text transform="translate(1120.74,611.70) scale(1.1909,1)" font-family='"Liberation Sans", sans-serif' font-size="30.56" fill="#000">#</text>
<text transform="translate(1152.14,611.70) scale(1.0505,1)" font-family='"Liberation Sans", sans-serif' font-size="30.50" fill="#000">epochs</text>
<text transform="translate(991.77,595.30) rotate(-90) scale(1.0745,1)" font-family='"Liberation Sans", sans-serif' font-size="31.29" fill="#000">|most negative λ|</text></svg></body></html>
